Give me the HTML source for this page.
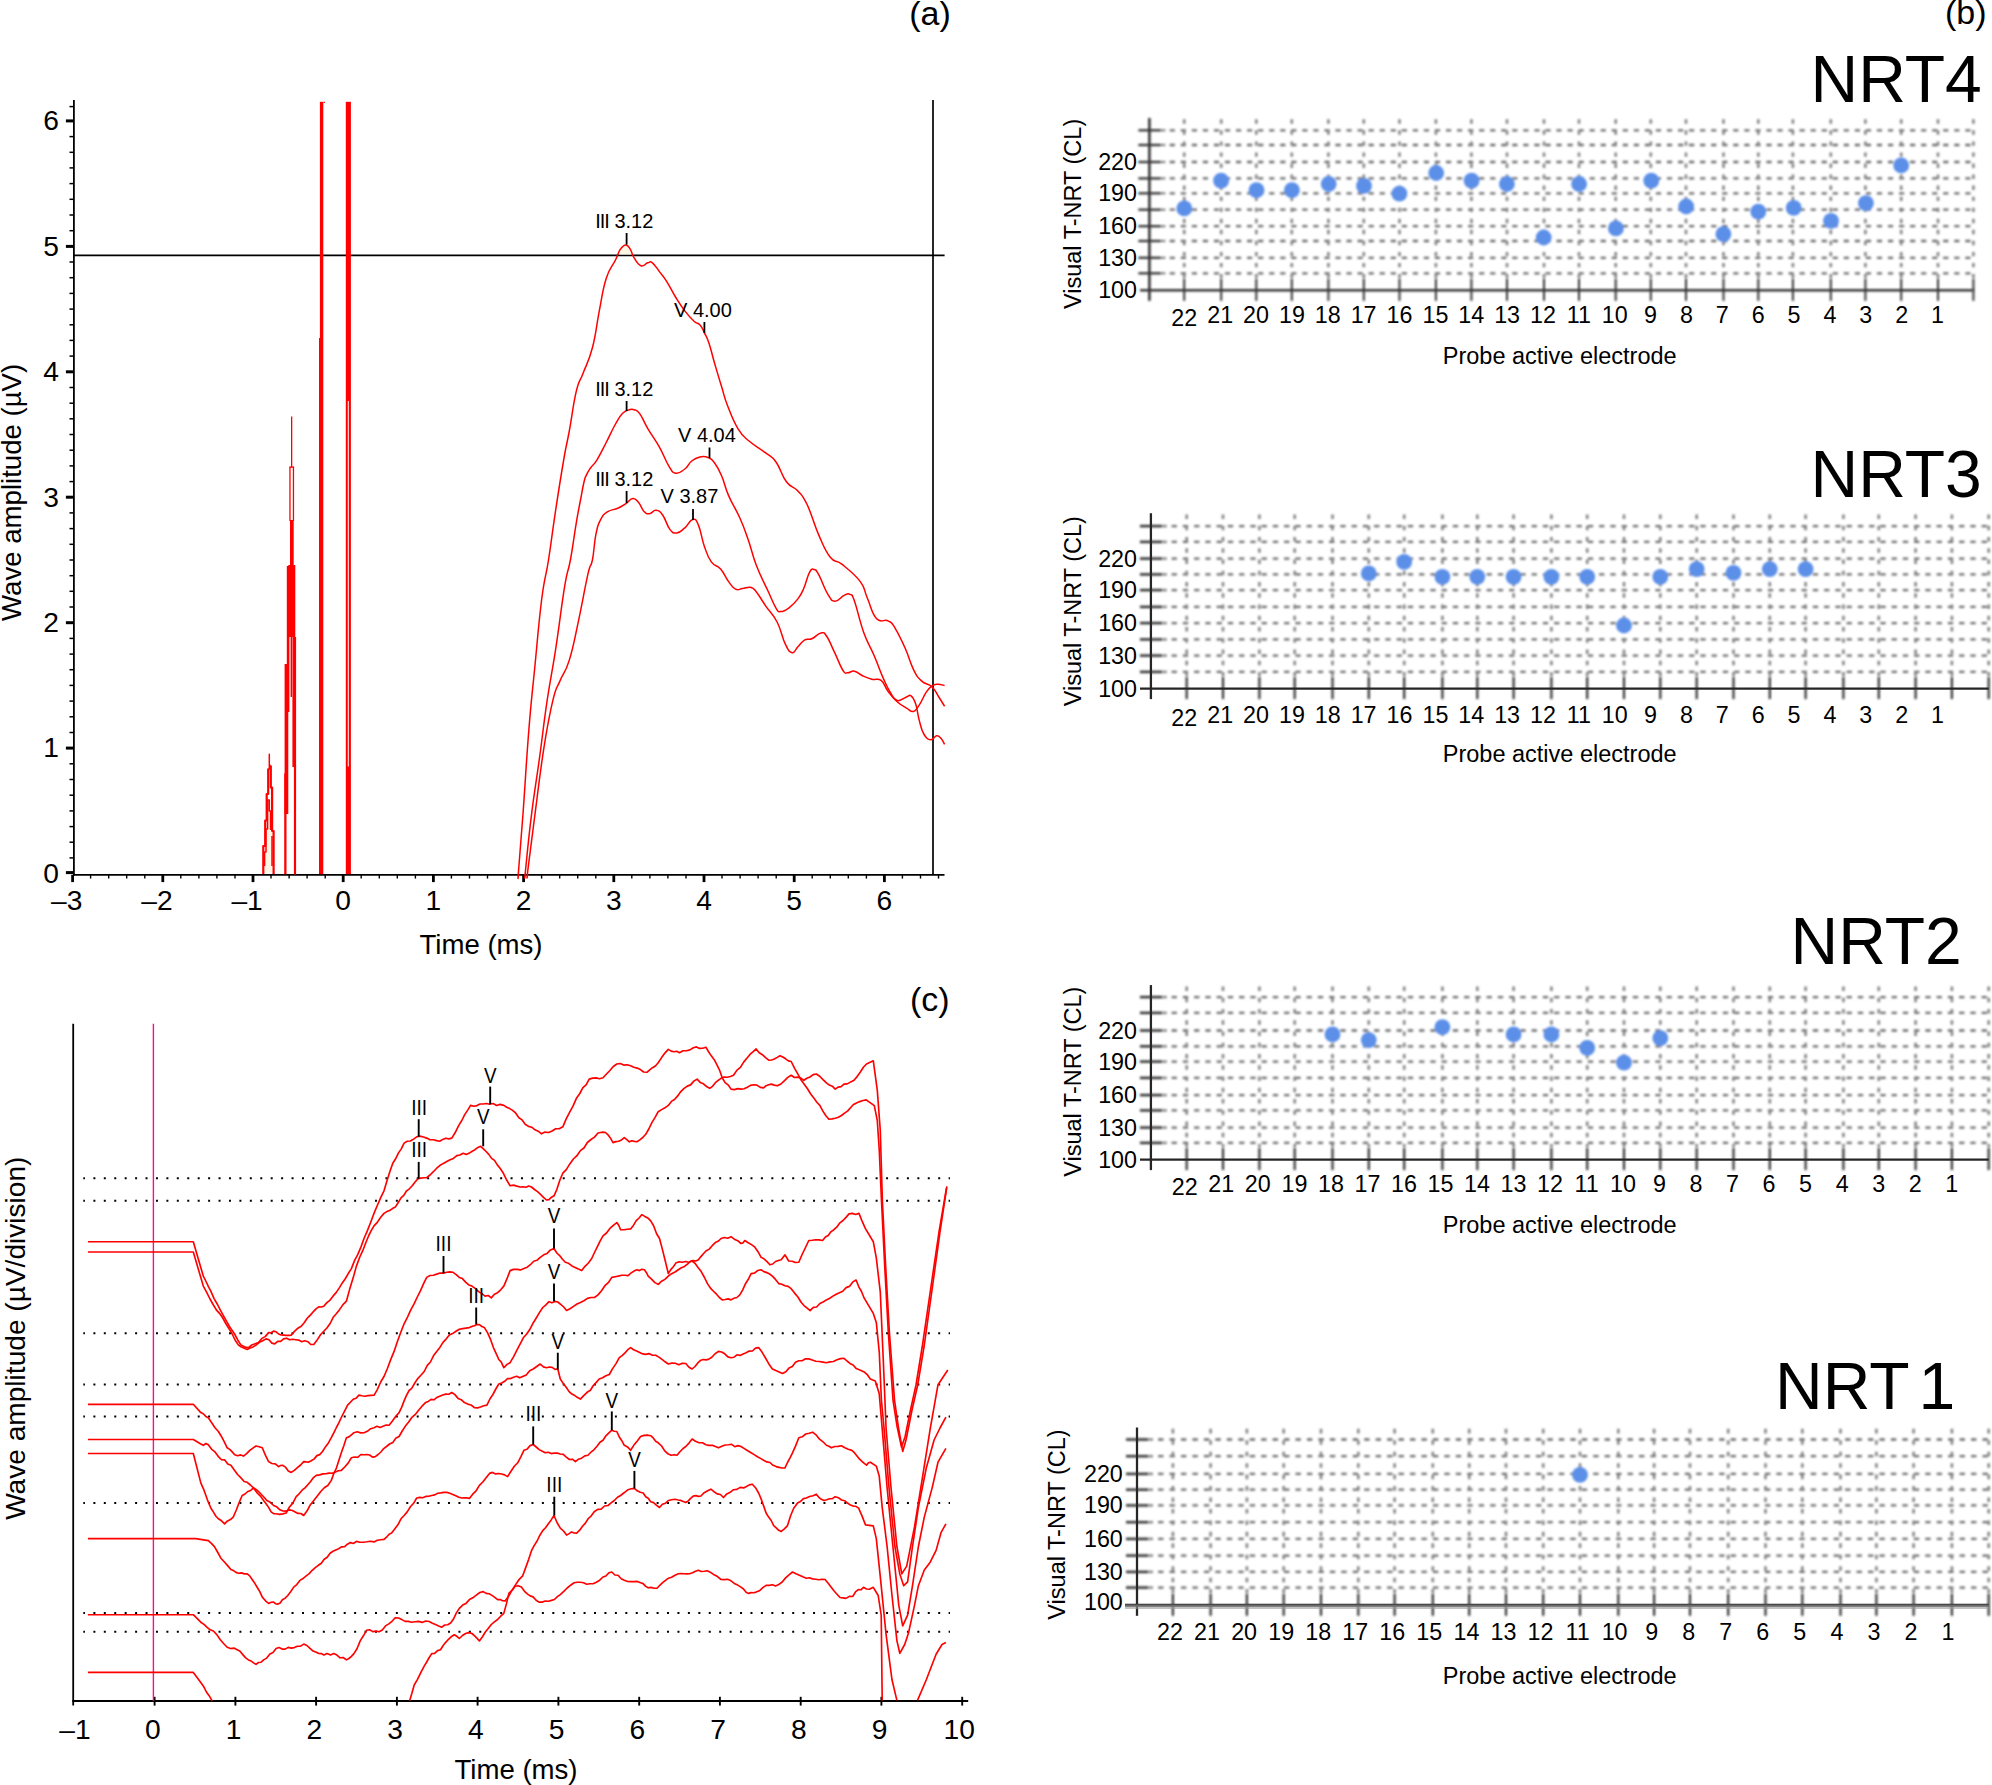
<!DOCTYPE html>
<html lang="en">
<head>
<meta charset="utf-8">
<title>ABR waveforms and NRT thresholds</title>
<style>
html,body{margin:0;padding:0;background:#fff;}
body{width:1992px;height:1785px;overflow:hidden;}
svg{display:block;font-family:"Liberation Sans", sans-serif;}
.red{fill:none;stroke:#ff0000;stroke-linejoin:round;stroke-linecap:butt;}
.ax{stroke:#000;fill:none;}
text{fill:#000;}
.tk{font-size:28.2px;}
.ttl{font-size:27.6px;}
.pl{font-size:34px;}
.lab{font-size:20px;}
.bt{font-size:23.3px;}
.bl{font-size:23.5px;}
.nrt{font-size:66px;}
</style>
</head>
<body>
<svg width="1992" height="1785" viewBox="0 0 1992 1785">
<defs>
<filter id="blurA" x="-5%" y="-5%" width="110%" height="110%"><feGaussianBlur stdDeviation="0.95"/></filter>
<filter id="blurB" x="-5%" y="-5%" width="110%" height="110%"><feGaussianBlur stdDeviation="0.9"/></filter>
<filter id="blurC" x="-5%" y="-5%" width="110%" height="110%"><feGaussianBlur stdDeviation="0.5"/></filter>
<filter id="blur2" x="-5%" y="-5%" width="110%" height="110%"><feGaussianBlur stdDeviation="0.7"/></filter>
</defs>
<rect x="0" y="0" width="1992" height="1785" fill="#fff"/>

<g id="panel-a">
<text class="pl" x="909.3" y="24.7">(a)</text>
<line class="ax" x1="73.9" y1="100" x2="73.9" y2="875.6999999999999" stroke-width="1.8"/>
<line class="ax" x1="73.0" y1="874.8" x2="944.5" y2="874.8" stroke-width="1.8"/>
<line class="ax" x1="65.9" y1="872.6" x2="73.9" y2="872.6" stroke-width="3"/>
<text class="tk" x="58.9" y="882.9" text-anchor="end">0</text>
<line class="ax" x1="69.5" y1="857.9" x2="73.9" y2="857.9" stroke-width="1.5"/>
<line class="ax" x1="69.5" y1="842.2" x2="73.9" y2="842.2" stroke-width="1.5"/>
<line class="ax" x1="69.5" y1="826.6" x2="73.9" y2="826.6" stroke-width="1.5"/>
<line class="ax" x1="69.5" y1="810.9" x2="73.9" y2="810.9" stroke-width="1.5"/>
<line class="ax" x1="69.5" y1="795.2" x2="73.9" y2="795.2" stroke-width="1.5"/>
<line class="ax" x1="69.5" y1="779.5" x2="73.9" y2="779.5" stroke-width="1.5"/>
<line class="ax" x1="69.5" y1="763.8" x2="73.9" y2="763.8" stroke-width="1.5"/>
<line class="ax" x1="65.9" y1="748.1" x2="73.9" y2="748.1" stroke-width="3"/>
<text class="tk" x="58.9" y="757.4" text-anchor="end">1</text>
<line class="ax" x1="69.5" y1="732.5" x2="73.9" y2="732.5" stroke-width="1.5"/>
<line class="ax" x1="69.5" y1="716.8" x2="73.9" y2="716.8" stroke-width="1.5"/>
<line class="ax" x1="69.5" y1="701.1" x2="73.9" y2="701.1" stroke-width="1.5"/>
<line class="ax" x1="69.5" y1="685.4" x2="73.9" y2="685.4" stroke-width="1.5"/>
<line class="ax" x1="69.5" y1="669.7" x2="73.9" y2="669.7" stroke-width="1.5"/>
<line class="ax" x1="69.5" y1="654.1" x2="73.9" y2="654.1" stroke-width="1.5"/>
<line class="ax" x1="69.5" y1="638.4" x2="73.9" y2="638.4" stroke-width="1.5"/>
<line class="ax" x1="65.9" y1="622.7" x2="73.9" y2="622.7" stroke-width="3"/>
<text class="tk" x="58.9" y="632.0" text-anchor="end">2</text>
<line class="ax" x1="69.5" y1="607.0" x2="73.9" y2="607.0" stroke-width="1.5"/>
<line class="ax" x1="69.5" y1="591.3" x2="73.9" y2="591.3" stroke-width="1.5"/>
<line class="ax" x1="69.5" y1="575.7" x2="73.9" y2="575.7" stroke-width="1.5"/>
<line class="ax" x1="69.5" y1="560.0" x2="73.9" y2="560.0" stroke-width="1.5"/>
<line class="ax" x1="69.5" y1="544.3" x2="73.9" y2="544.3" stroke-width="1.5"/>
<line class="ax" x1="69.5" y1="528.6" x2="73.9" y2="528.6" stroke-width="1.5"/>
<line class="ax" x1="69.5" y1="512.9" x2="73.9" y2="512.9" stroke-width="1.5"/>
<line class="ax" x1="65.9" y1="497.2" x2="73.9" y2="497.2" stroke-width="3"/>
<text class="tk" x="58.9" y="506.6" text-anchor="end">3</text>
<line class="ax" x1="69.5" y1="481.6" x2="73.9" y2="481.6" stroke-width="1.5"/>
<line class="ax" x1="69.5" y1="465.9" x2="73.9" y2="465.9" stroke-width="1.5"/>
<line class="ax" x1="69.5" y1="450.2" x2="73.9" y2="450.2" stroke-width="1.5"/>
<line class="ax" x1="69.5" y1="434.5" x2="73.9" y2="434.5" stroke-width="1.5"/>
<line class="ax" x1="69.5" y1="418.8" x2="73.9" y2="418.8" stroke-width="1.5"/>
<line class="ax" x1="69.5" y1="403.2" x2="73.9" y2="403.2" stroke-width="1.5"/>
<line class="ax" x1="69.5" y1="387.5" x2="73.9" y2="387.5" stroke-width="1.5"/>
<line class="ax" x1="65.9" y1="371.8" x2="73.9" y2="371.8" stroke-width="3"/>
<text class="tk" x="58.9" y="381.1" text-anchor="end">4</text>
<line class="ax" x1="69.5" y1="356.1" x2="73.9" y2="356.1" stroke-width="1.5"/>
<line class="ax" x1="69.5" y1="340.4" x2="73.9" y2="340.4" stroke-width="1.5"/>
<line class="ax" x1="69.5" y1="324.8" x2="73.9" y2="324.8" stroke-width="1.5"/>
<line class="ax" x1="69.5" y1="309.1" x2="73.9" y2="309.1" stroke-width="1.5"/>
<line class="ax" x1="69.5" y1="293.4" x2="73.9" y2="293.4" stroke-width="1.5"/>
<line class="ax" x1="69.5" y1="277.7" x2="73.9" y2="277.7" stroke-width="1.5"/>
<line class="ax" x1="69.5" y1="262.0" x2="73.9" y2="262.0" stroke-width="1.5"/>
<line class="ax" x1="65.9" y1="246.4" x2="73.9" y2="246.4" stroke-width="3"/>
<text class="tk" x="58.9" y="255.7" text-anchor="end">5</text>
<line class="ax" x1="69.5" y1="230.7" x2="73.9" y2="230.7" stroke-width="1.5"/>
<line class="ax" x1="69.5" y1="215.0" x2="73.9" y2="215.0" stroke-width="1.5"/>
<line class="ax" x1="69.5" y1="199.3" x2="73.9" y2="199.3" stroke-width="1.5"/>
<line class="ax" x1="69.5" y1="183.6" x2="73.9" y2="183.6" stroke-width="1.5"/>
<line class="ax" x1="69.5" y1="167.9" x2="73.9" y2="167.9" stroke-width="1.5"/>
<line class="ax" x1="69.5" y1="152.3" x2="73.9" y2="152.3" stroke-width="1.5"/>
<line class="ax" x1="69.5" y1="136.6" x2="73.9" y2="136.6" stroke-width="1.5"/>
<line class="ax" x1="65.9" y1="120.9" x2="73.9" y2="120.9" stroke-width="3"/>
<text class="tk" x="58.9" y="130.2" text-anchor="end">6</text>
<line class="ax" x1="69.5" y1="106.6" x2="73.9" y2="106.6" stroke-width="1.5"/>
<line class="ax" x1="72.6" y1="874.8" x2="72.6" y2="882.1" stroke-width="2.8"/>
<text class="tk" x="82.4" y="910.0" text-anchor="end">–3</text>
<line class="ax" x1="90.6" y1="874.8" x2="90.6" y2="878.6" stroke-width="1.4"/>
<line class="ax" x1="108.7" y1="874.8" x2="108.7" y2="878.6" stroke-width="1.4"/>
<line class="ax" x1="126.7" y1="874.8" x2="126.7" y2="878.6" stroke-width="1.4"/>
<line class="ax" x1="144.8" y1="874.8" x2="144.8" y2="878.6" stroke-width="1.4"/>
<line class="ax" x1="162.8" y1="874.8" x2="162.8" y2="882.1" stroke-width="2.8"/>
<text class="tk" x="172.6" y="910.0" text-anchor="end">–2</text>
<line class="ax" x1="180.8" y1="874.8" x2="180.8" y2="878.6" stroke-width="1.4"/>
<line class="ax" x1="198.9" y1="874.8" x2="198.9" y2="878.6" stroke-width="1.4"/>
<line class="ax" x1="216.9" y1="874.8" x2="216.9" y2="878.6" stroke-width="1.4"/>
<line class="ax" x1="235.0" y1="874.8" x2="235.0" y2="878.6" stroke-width="1.4"/>
<line class="ax" x1="253.0" y1="874.8" x2="253.0" y2="882.1" stroke-width="2.8"/>
<text class="tk" x="262.8" y="910.0" text-anchor="end">–1</text>
<line class="ax" x1="271.0" y1="874.8" x2="271.0" y2="878.6" stroke-width="1.4"/>
<line class="ax" x1="289.1" y1="874.8" x2="289.1" y2="878.6" stroke-width="1.4"/>
<line class="ax" x1="307.1" y1="874.8" x2="307.1" y2="878.6" stroke-width="1.4"/>
<line class="ax" x1="325.2" y1="874.8" x2="325.2" y2="878.6" stroke-width="1.4"/>
<line class="ax" x1="343.2" y1="874.8" x2="343.2" y2="882.1" stroke-width="2.8"/>
<text class="tk" x="343.2" y="910.0" text-anchor="middle">0</text>
<line class="ax" x1="361.2" y1="874.8" x2="361.2" y2="878.6" stroke-width="1.4"/>
<line class="ax" x1="379.3" y1="874.8" x2="379.3" y2="878.6" stroke-width="1.4"/>
<line class="ax" x1="397.3" y1="874.8" x2="397.3" y2="878.6" stroke-width="1.4"/>
<line class="ax" x1="415.4" y1="874.8" x2="415.4" y2="878.6" stroke-width="1.4"/>
<line class="ax" x1="433.4" y1="874.8" x2="433.4" y2="882.1" stroke-width="2.8"/>
<text class="tk" x="433.4" y="910.0" text-anchor="middle">1</text>
<line class="ax" x1="451.4" y1="874.8" x2="451.4" y2="878.6" stroke-width="1.4"/>
<line class="ax" x1="469.5" y1="874.8" x2="469.5" y2="878.6" stroke-width="1.4"/>
<line class="ax" x1="487.5" y1="874.8" x2="487.5" y2="878.6" stroke-width="1.4"/>
<line class="ax" x1="505.6" y1="874.8" x2="505.6" y2="878.6" stroke-width="1.4"/>
<line class="ax" x1="523.6" y1="874.8" x2="523.6" y2="882.1" stroke-width="2.8"/>
<text class="tk" x="523.6" y="910.0" text-anchor="middle">2</text>
<line class="ax" x1="541.6" y1="874.8" x2="541.6" y2="878.6" stroke-width="1.4"/>
<line class="ax" x1="559.7" y1="874.8" x2="559.7" y2="878.6" stroke-width="1.4"/>
<line class="ax" x1="577.7" y1="874.8" x2="577.7" y2="878.6" stroke-width="1.4"/>
<line class="ax" x1="595.8" y1="874.8" x2="595.8" y2="878.6" stroke-width="1.4"/>
<line class="ax" x1="613.8" y1="874.8" x2="613.8" y2="882.1" stroke-width="2.8"/>
<text class="tk" x="613.8" y="910.0" text-anchor="middle">3</text>
<line class="ax" x1="631.8" y1="874.8" x2="631.8" y2="878.6" stroke-width="1.4"/>
<line class="ax" x1="649.9" y1="874.8" x2="649.9" y2="878.6" stroke-width="1.4"/>
<line class="ax" x1="667.9" y1="874.8" x2="667.9" y2="878.6" stroke-width="1.4"/>
<line class="ax" x1="686.0" y1="874.8" x2="686.0" y2="878.6" stroke-width="1.4"/>
<line class="ax" x1="704.0" y1="874.8" x2="704.0" y2="882.1" stroke-width="2.8"/>
<text class="tk" x="704.0" y="910.0" text-anchor="middle">4</text>
<line class="ax" x1="722.0" y1="874.8" x2="722.0" y2="878.6" stroke-width="1.4"/>
<line class="ax" x1="740.1" y1="874.8" x2="740.1" y2="878.6" stroke-width="1.4"/>
<line class="ax" x1="758.1" y1="874.8" x2="758.1" y2="878.6" stroke-width="1.4"/>
<line class="ax" x1="776.2" y1="874.8" x2="776.2" y2="878.6" stroke-width="1.4"/>
<line class="ax" x1="794.2" y1="874.8" x2="794.2" y2="882.1" stroke-width="2.8"/>
<text class="tk" x="794.2" y="910.0" text-anchor="middle">5</text>
<line class="ax" x1="812.2" y1="874.8" x2="812.2" y2="878.6" stroke-width="1.4"/>
<line class="ax" x1="830.3" y1="874.8" x2="830.3" y2="878.6" stroke-width="1.4"/>
<line class="ax" x1="848.3" y1="874.8" x2="848.3" y2="878.6" stroke-width="1.4"/>
<line class="ax" x1="866.4" y1="874.8" x2="866.4" y2="878.6" stroke-width="1.4"/>
<line class="ax" x1="884.4" y1="874.8" x2="884.4" y2="882.1" stroke-width="2.8"/>
<text class="tk" x="884.4" y="910.0" text-anchor="middle">6</text>
<line class="ax" x1="902.4" y1="874.8" x2="902.4" y2="878.6" stroke-width="1.4"/>
<line class="ax" x1="920.5" y1="874.8" x2="920.5" y2="878.6" stroke-width="1.4"/>
<line class="ax" x1="938.5" y1="874.8" x2="938.5" y2="878.6" stroke-width="1.4"/>
<text class="ttl" x="481" y="954" text-anchor="middle">Time (ms)</text>
<text class="ttl" transform="translate(21.0,492.4) rotate(-90)" text-anchor="middle">Wave amplitude (µV)</text>
<line class="ax" x1="74" y1="255.4" x2="944.6" y2="255.4" stroke-width="1.7"/>
<line class="ax" x1="933" y1="100" x2="933" y2="874.8" stroke-width="1.7"/>
<path d="M619.5,254.6 L621.5,248.5 L626,245.8 L630,249.5 L632.5,254.6 Z" fill="#fbf7e4"/>
<g fill="#ff0000" stroke="none">
<rect x="319.0" y="338" width="2.2" height="536"/>
<rect x="319.9" y="101.8" width="3.4" height="772.4"/>
<rect x="345.8" y="101.8" width="5.1" height="772.4"/>
<rect x="323.6" y="101.8" width="1.3" height="1.2"/>
</g>
<rect x="347.7" y="401" width="1.3" height="365.5" fill="#fff" fill-opacity="0.75"/>
<g fill="#ff0000" stroke="none">
<rect x="284.2" y="773.3" width="2.3" height="101"/>
<rect x="284.6" y="664" width="3.7" height="150"/>
<rect x="286.8" y="566" width="2.6" height="146"/>
<rect x="288.3" y="565" width="7.0" height="72"/>
<rect x="290.0" y="520" width="3.7" height="46"/>
<rect x="289.3" y="467" width="1.3" height="54"/>
<rect x="292.8" y="467" width="1.3" height="54"/>
<rect x="289.3" y="466.4" width="4.8" height="1.3"/>
<rect x="291.0" y="416.5" width="1.3" height="51"/>
<rect x="292.4" y="637" width="3.7" height="130"/>
<rect x="293.9" y="766" width="2.2" height="108.5"/>
<rect x="290.6" y="637" width="1.4" height="60"/>
</g>
<polygon points="265,872.5 265,832 267,832 267,812 270.5,812 270.5,832 272.5,832 272.5,872.5" fill="#fbf7e4"/>
<g class="red" stroke-width="2.2" stroke-linejoin="miter">
<polyline points="263.3,874 263.3,846 265.2,846 265.2,820.5 266.7,820.5 266.7,794 268.2,794 268.2,768.6"/>
<polyline points="270.8,765.5 270.8,787.6 272.1,787.6 272.1,831 273.6,831 273.6,874"/>
</g>
<g class="red" stroke-width="1.5" stroke-linejoin="miter">
<polyline points="268.2,769 269.3,769 269.3,754.2 269.3,765.5 270.8,765.5"/>
<polyline points="264.6,866 264.6,852 266.0,852 266.0,829 267.6,829 267.6,800 269.3,800 269.3,811 270.6,811 270.6,830"/>
<polyline points="272.0,836 272.0,866"/>
</g>
<g class="red" stroke-width="1.5">
<path d="M518.5,874.0C518.5,873.4 517.4,885.8 518.5,871.4C519.6,857.0 520.7,845.6 523.1,812.5C525.5,779.4 526.2,762.8 528.9,729.4C531.6,696.0 531.6,699.5 534.6,669.3C537.6,639.1 538.4,625.5 541.6,600.0C544.8,574.5 545.3,580.6 548.5,560.0C551.7,539.4 551.9,534.9 555.4,511.8C558.9,488.7 560.3,479.9 563.5,461.0C566.7,442.1 566.3,447.2 569.3,431.0C572.3,414.8 573.0,405.2 576.2,391.7C579.4,378.2 579.3,383.4 583.1,373.2C586.9,363.0 588.6,362.3 592.4,347.8C596.2,333.3 596.1,327.1 599.3,310.9C602.5,294.7 602.4,290.4 606.2,278.5C610.0,266.6 612.3,266.7 615.5,260.0C618.7,253.3 617.7,253.2 620.1,249.7C622.5,246.2 623.5,245.0 625.9,245.0C628.3,245.0 628.6,246.7 630.5,249.7C632.4,252.7 631.6,253.9 634.0,257.7C636.4,261.5 637.7,264.6 640.9,265.8C644.1,267.0 645.1,263.5 647.8,262.8C650.5,262.1 649.7,260.7 652.4,262.8C655.1,264.9 656.2,267.4 659.4,271.6C662.6,275.8 662.5,274.9 666.3,280.8C670.1,286.7 671.2,290.0 675.5,297.0C679.8,304.0 680.5,305.3 684.8,310.9C689.1,316.5 690.5,318.0 694.0,321.2C697.5,324.4 697.4,322.0 699.8,324.7C702.2,327.4 702.3,328.5 704.4,332.8C706.5,337.1 706.6,335.9 709.0,343.2C711.4,350.5 711.8,353.8 714.8,364.0C717.8,374.2 718.7,377.3 721.7,387.0C724.7,396.7 723.7,395.8 727.5,405.5C731.3,415.2 732.8,420.2 737.9,428.6C743.0,437.0 742.9,435.6 749.4,441.3C755.9,447.0 759.4,448.1 765.6,452.9C771.8,457.7 771.1,455.3 776.0,462.0C780.9,468.7 781.3,475.0 786.4,481.8C791.5,488.6 793.0,485.6 797.9,491.0C802.8,496.4 802.3,494.6 807.2,504.8C812.1,515.0 813.3,522.6 818.7,534.9C824.1,547.1 824.9,550.5 830.3,557.3C835.7,564.1 834.8,558.5 841.8,564.2C848.8,569.9 854.4,573.8 860.3,581.6C866.2,589.4 863.4,589.1 867.2,597.7C871.0,606.3 871.5,613.1 876.4,618.5C881.3,623.9 883.7,618.6 888.0,620.8C892.3,623.0 890.9,621.3 894.9,627.8C898.9,634.3 901.0,638.8 905.3,648.5C909.6,658.2 909.6,661.7 913.4,669.3C917.2,676.9 917.2,676.8 921.5,680.9C925.8,685.0 927.9,682.9 931.9,686.7C935.9,690.5 935.8,692.4 938.8,697.0C941.8,701.6 943.2,704.1 944.6,706.3"/>
<path d="M525.4,874.0C525.4,873.4 524.0,884.7 525.4,871.4C526.8,858.1 528.0,843.2 531.2,817.1C534.4,791.0 535.5,786.9 539.3,759.4C543.1,731.9 543.5,724.7 547.3,699.4C551.1,674.1 551.3,677.3 555.4,650.9C559.5,624.5 561.2,607.4 564.7,586.2C568.2,565.0 567.7,574.7 570.4,560.0C573.1,545.3 573.9,537.2 576.2,523.3C578.5,509.4 578.6,510.1 580.4,500.5C582.2,490.9 582.6,488.0 584.0,482.0C585.4,476.0 585.1,477.9 586.6,474.6C588.1,471.3 588.1,471.5 590.5,468.0C592.9,464.5 593.3,465.8 597.0,459.8C600.7,453.9 601.9,450.9 606.2,442.5C610.5,434.1 611.7,430.7 615.5,424.0C619.3,417.3 619.2,416.9 622.4,413.6C625.6,410.3 626.6,410.6 629.3,409.7C632.0,408.8 631.5,408.8 633.9,409.7C636.3,410.6 636.5,409.2 639.7,413.6C642.9,418.0 643.2,420.8 647.8,428.6C652.4,436.4 654.5,438.5 659.4,447.1C664.3,455.7 664.8,459.5 668.6,465.6C672.4,471.7 671.7,472.4 675.5,473.2C679.3,474.0 681.0,471.8 684.8,469.0C688.6,466.2 688.2,463.8 691.7,461.0C695.2,458.2 696.0,457.8 699.8,457.0C703.6,456.2 704.4,456.0 707.9,457.5C711.4,459.0 711.6,459.0 714.8,463.3C718.0,467.6 718.5,468.5 721.7,476.0C724.9,483.5 724.3,485.6 728.6,495.6C732.9,505.6 735.6,508.3 740.2,518.7C744.8,529.1 744.5,529.1 748.3,540.0C752.1,550.9 751.8,553.5 756.4,565.4C761.0,577.3 763.3,580.8 767.9,590.8C772.5,600.8 773.0,603.2 776.0,608.1C779.0,613.0 777.6,611.6 780.6,611.6C783.6,611.6 784.7,611.1 788.7,608.1C792.7,605.1 794.4,603.5 797.9,598.9C801.4,594.3 801.0,594.7 803.7,588.5C806.4,582.3 807.1,576.7 809.5,572.3C811.9,567.9 812.0,569.1 814.1,569.6C816.2,570.1 815.5,568.8 818.7,574.6C821.9,580.4 824.1,588.1 827.9,594.3C831.7,600.5 831.1,600.9 834.9,601.2C838.7,601.5 840.6,597.0 844.1,595.4C847.6,593.8 847.5,592.9 849.9,594.3C852.3,595.7 851.3,592.3 854.5,601.2C857.7,610.1 859.1,619.7 863.7,632.4C868.3,645.1 869.5,644.7 874.1,655.5C878.7,666.3 879.6,670.0 883.4,678.6C887.2,687.2 887.1,687.3 890.3,692.4C893.5,697.5 893.4,699.4 897.2,700.5C901.0,701.6 903.3,698.1 906.5,697.0C909.7,695.9 909.0,694.3 911.1,695.9C913.2,697.5 913.8,698.4 915.7,704.0C917.6,709.6 917.3,713.1 919.2,720.1C921.1,727.1 921.1,729.4 923.8,734.0C926.5,738.6 927.7,739.4 930.7,739.8C933.7,740.2 934.1,736.1 936.5,735.8C938.9,735.5 939.2,736.6 941.1,738.6C943.0,740.6 943.8,743.0 944.6,744.4"/>
<path d="M527.7,874.0C527.7,873.4 526.1,884.7 527.7,871.4C529.3,858.1 530.8,845.9 534.6,817.1C538.4,788.3 539.6,775.4 543.9,747.9C548.2,720.4 549.3,715.0 553.1,699.4C556.9,683.8 556.2,690.1 560.0,680.9C563.8,671.7 565.0,674.1 569.3,660.1C573.6,646.1 574.2,640.8 578.5,620.8C582.8,600.8 584.6,588.8 587.8,574.6C591.0,560.4 590.5,569.3 592.4,560.0C594.3,550.7 593.9,544.3 595.8,534.9C597.7,525.5 597.8,525.3 600.5,519.9C603.2,514.5 603.4,514.5 607.4,511.8C611.4,509.1 613.5,510.2 617.8,508.3C622.1,506.4 622.4,506.0 625.9,503.7C629.4,501.4 629.8,498.7 632.8,498.4C635.8,498.1 635.9,499.4 638.6,502.5C641.3,505.6 641.6,509.2 644.3,511.8C647.0,514.4 647.4,514.0 650.1,513.6C652.8,513.2 652.9,509.8 655.9,510.2C658.9,510.6 659.6,510.8 662.8,515.2C666.0,519.6 666.5,524.9 669.7,529.1C672.9,533.3 673.2,533.3 676.7,533.0C680.2,532.7 681.0,531.1 684.8,527.9C688.6,524.7 689.6,519.9 692.8,519.4C696.0,518.9 695.9,519.3 698.6,525.6C701.3,531.9 701.4,537.9 704.4,546.4C707.4,554.9 707.5,556.6 711.3,561.9C715.1,567.1 716.6,564.3 720.6,568.9C724.6,573.5 725.1,576.9 728.6,581.6C732.1,586.3 732.4,587.6 735.6,589.2C738.8,590.8 739.0,588.9 742.5,588.5C746.0,588.1 747.4,586.5 750.6,587.3C753.8,588.1 752.9,587.7 756.4,592.0C759.9,596.3 760.8,598.8 765.6,605.8C770.4,612.8 772.5,613.1 777.1,622.0C781.7,630.9 781.7,636.7 785.2,643.9C788.7,651.1 789.1,652.0 792.1,652.7C795.1,653.4 794.9,649.7 797.9,646.7C800.9,643.7 801.6,641.6 804.8,639.8C808.0,638.0 808.0,640.4 811.8,638.8C815.6,637.2 817.5,633.5 821.0,633.0C824.5,632.5 823.6,631.8 826.8,636.5C830.0,641.2 831.1,645.3 834.9,653.2C838.7,661.1 840.0,665.9 843.0,670.5C846.0,675.1 844.9,672.6 847.6,672.8C850.3,673.0 851.0,670.5 854.5,671.2C858.0,671.9 858.6,673.9 862.6,675.8C866.6,677.7 867.5,678.2 871.8,679.3C876.1,680.4 877.3,677.6 881.1,680.4C884.9,683.2 884.2,686.3 888.0,691.3C891.8,696.3 892.9,697.8 897.2,701.7C901.5,705.6 902.7,705.8 906.5,708.1C910.3,710.4 910.4,712.1 913.4,711.4C916.4,710.7 916.2,709.5 919.2,705.1C922.2,700.7 923.1,696.9 926.1,692.4C929.1,687.9 929.2,687.9 931.9,686.0C934.6,684.1 934.6,684.4 937.6,684.3C940.6,684.2 943.0,685.2 944.6,685.5"/>
</g>
<text class="lab" x="595.3" y="227.7"><tspan letter-spacing="-1.05">III</tspan> 3.12</text>
<line class="ax" x1="626.6" y1="233" x2="626.6" y2="244.6" stroke-width="1.8"/>
<text class="lab" x="674.0" y="317.0">V 4.00</text>
<line class="ax" x1="704.4" y1="322" x2="704.4" y2="333" stroke-width="1.8"/>
<text class="lab" x="595.3" y="396.0"><tspan letter-spacing="-1.05">III</tspan> 3.12</text>
<line class="ax" x1="626.6" y1="401" x2="626.6" y2="411" stroke-width="1.8"/>
<text class="lab" x="678.0" y="442.0">V 4.04</text>
<line class="ax" x1="709.5" y1="447.5" x2="709.5" y2="458" stroke-width="1.8"/>
<text class="lab" x="595.3" y="486.0"><tspan letter-spacing="-1.05">III</tspan> 3.12</text>
<line class="ax" x1="626.6" y1="491" x2="626.6" y2="503" stroke-width="1.8"/>
<text class="lab" x="660.5" y="503.0">V 3.87</text>
<line class="ax" x1="693.0" y1="509" x2="693.0" y2="520" stroke-width="1.8"/>
</g>
<g id="panel-c">
<text class="pl" x="909.9" y="1010.6">(c)</text>
<line class="ax" x1="73.2" y1="1023.8" x2="73.2" y2="1705.6" stroke-width="1.8"/>
<line class="ax" x1="72.3" y1="1701.0" x2="968.2" y2="1701.0" stroke-width="1.8"/>
<text class="tk" x="75.0" y="1739.0" text-anchor="middle">–1</text>
<line class="ax" x1="154.6" y1="1696.8" x2="154.6" y2="1705.6" stroke-width="1.9"/>
<text class="tk" x="152.8" y="1739.0" text-anchor="middle">0</text>
<line class="ax" x1="235.4" y1="1696.8" x2="235.4" y2="1705.6" stroke-width="1.9"/>
<text class="tk" x="233.6" y="1739.0" text-anchor="middle">1</text>
<line class="ax" x1="316.1" y1="1696.8" x2="316.1" y2="1705.6" stroke-width="1.9"/>
<text class="tk" x="314.3" y="1739.0" text-anchor="middle">2</text>
<line class="ax" x1="396.9" y1="1696.8" x2="396.9" y2="1705.6" stroke-width="1.9"/>
<text class="tk" x="395.1" y="1739.0" text-anchor="middle">3</text>
<line class="ax" x1="477.6" y1="1696.8" x2="477.6" y2="1705.6" stroke-width="1.9"/>
<text class="tk" x="475.8" y="1739.0" text-anchor="middle">4</text>
<line class="ax" x1="558.4" y1="1696.8" x2="558.4" y2="1705.6" stroke-width="1.9"/>
<text class="tk" x="556.6" y="1739.0" text-anchor="middle">5</text>
<line class="ax" x1="639.2" y1="1696.8" x2="639.2" y2="1705.6" stroke-width="1.9"/>
<text class="tk" x="637.4" y="1739.0" text-anchor="middle">6</text>
<line class="ax" x1="719.9" y1="1696.8" x2="719.9" y2="1705.6" stroke-width="1.9"/>
<text class="tk" x="718.1" y="1739.0" text-anchor="middle">7</text>
<line class="ax" x1="800.7" y1="1696.8" x2="800.7" y2="1705.6" stroke-width="1.9"/>
<text class="tk" x="798.9" y="1739.0" text-anchor="middle">8</text>
<line class="ax" x1="881.4" y1="1696.8" x2="881.4" y2="1705.6" stroke-width="1.9"/>
<text class="tk" x="879.6" y="1739.0" text-anchor="middle">9</text>
<line class="ax" x1="962.2" y1="1696.8" x2="962.2" y2="1705.6" stroke-width="1.9"/>
<text class="tk" x="959.3" y="1739.0" text-anchor="middle">10</text>
<text class="ttl" x="516" y="1779.2" text-anchor="middle">Time (ms)</text>
<text class="ttl" style="font-size:28.1px" transform="translate(24.6,1338.2) rotate(-90)" text-anchor="middle">Wave amplitude (µV/division)</text>
<line x1="83.3" y1="1178.2" x2="950" y2="1178.2" stroke="#000" stroke-width="2" stroke-dasharray="2 8.43" stroke-dashoffset="0.35"/>
<line x1="83.3" y1="1200.8" x2="950" y2="1200.8" stroke="#000" stroke-width="2" stroke-dasharray="2 8.43" stroke-dashoffset="0.35"/>
<line x1="83.3" y1="1333.3" x2="950" y2="1333.3" stroke="#000" stroke-width="2" stroke-dasharray="2 8.43" stroke-dashoffset="0.35"/>
<line x1="83.3" y1="1384.5" x2="950" y2="1384.5" stroke="#000" stroke-width="2" stroke-dasharray="2 8.43" stroke-dashoffset="0.35"/>
<line x1="83.3" y1="1416.4" x2="950" y2="1416.4" stroke="#000" stroke-width="2" stroke-dasharray="2 8.43" stroke-dashoffset="0.35"/>
<line x1="83.3" y1="1503.0" x2="950" y2="1503.0" stroke="#000" stroke-width="2" stroke-dasharray="2 8.43" stroke-dashoffset="0.35"/>
<line x1="83.3" y1="1612.9" x2="950" y2="1612.9" stroke="#000" stroke-width="2" stroke-dasharray="2 8.43" stroke-dashoffset="0.35"/>
<line x1="83.3" y1="1631.8" x2="950" y2="1631.8" stroke="#000" stroke-width="2" stroke-dasharray="2 8.43" stroke-dashoffset="0.35"/>
<line x1="153.4" y1="1023.8" x2="153.4" y2="1700.8" stroke="#ff0a8c" stroke-width="1.4"/>
<g class="red" stroke-width="1.65" stroke-linejoin="miter">
<polyline points="87.9,1241.7 193.3,1241.7 203.3,1276.1 205.8,1281.0 208.3,1286.3 210.8,1291.2 214.2,1298.8 217.5,1304.5 220.9,1311.2 224.2,1317.1 227.6,1323.1 230.9,1328.8 234.3,1333.5 237.6,1339.7 241.0,1345.1 243.5,1346.2 246.0,1347.4 248.5,1347.6 251.8,1345.0 255.2,1343.8 258.5,1342.6 261.9,1338.4 265.2,1336.6 268.6,1332.6 271.1,1332.8 273.6,1331.1 276.1,1331.8 278.6,1334.0 281.1,1335.0 283.6,1335.1 286.1,1335.4 288.7,1335.4 291.2,1335.1 294.5,1331.4 297.9,1328.2 301.2,1326.3 304.2,1322.8 307.2,1318.3 310.3,1315.1 313.3,1311.7 316.3,1308.7 318.8,1306.8 321.3,1307.0 323.8,1306.2 326.9,1302.6 330.1,1300.1 333.2,1295.9 336.3,1292.4 339.3,1287.9 342.3,1282.9 345.4,1278.5 348.4,1273.3 351.4,1268.6 354.5,1260.6 357.7,1254.6 360.9,1247.1 364.0,1238.5 367.3,1230.9 370.7,1222.2 374.0,1213.4 377.3,1205.5 380.7,1197.7 384.0,1190.8 386.9,1181.1 389.9,1171.5 392.8,1163.2 395.6,1158.8 398.5,1152.9 401.3,1148.9 404.1,1143.1 407.2,1141.3 410.4,1141.0 413.6,1139.1 416.7,1136.8 420.0,1136.1 423.4,1137.0 426.7,1138.1 430.0,1139.8 433.4,1139.7 436.7,1140.6 439.7,1141.2 442.7,1139.4 445.8,1138.2 448.8,1138.9 451.8,1138.1 455.1,1132.8 458.5,1125.9 461.8,1120.5 464.7,1114.6 467.7,1110.1 470.6,1105.4 473.8,1106.2 476.9,1105.6 480.1,1104.0 483.2,1104.0 486.4,1103.5 489.5,1104.2 493.1,1103.5 496.6,1105.5 500.2,1104.4 503.8,1105.4 506.7,1107.2 509.7,1108.6 512.6,1110.4 515.8,1113.2 518.9,1117.8 522.1,1119.9 525.2,1124.2 528.5,1126.4 531.7,1127.2 535.0,1129.8 538.2,1131.2 541.5,1133.8 545.0,1132.1 548.6,1132.5 552.1,1131.0 555.7,1128.7 559.2,1128.8 562.8,1126.8 566.2,1118.9 569.7,1112.1 573.1,1105.9 576.6,1097.9 579.8,1093.5 582.9,1087.6 586.1,1084.9 589.2,1079.1 592.7,1078.1 596.1,1077.9 599.5,1078.7 603.0,1077.8 606.5,1074.0 609.9,1070.5 613.3,1066.5 616.8,1064.0 620.2,1063.5 623.7,1065.1 627.1,1064.8 630.6,1065.8 633.9,1067.3 637.1,1068.1 640.4,1069.6 643.6,1072.0 646.9,1072.3 649.7,1069.9 652.5,1067.7 655.4,1066.0 658.2,1062.8 661.6,1057.6 664.9,1053.1 668.3,1049.4 671.1,1051.1 673.9,1051.7 676.7,1051.3 679.5,1052.7 683.0,1050.8 686.5,1050.7 689.9,1049.9 693.4,1047.7 696.5,1046.9 699.6,1048.4 702.8,1048.2 705.9,1047.2 708.7,1052.0 711.5,1056.1 714.4,1059.9 717.2,1065.3 719.7,1070.5 722.2,1077.8 725.1,1082.6 728.1,1084.8 731.0,1089.1 734.3,1089.6 737.7,1088.6 741.0,1089.1 744.1,1088.7 747.3,1087.2 750.5,1085.4 753.6,1084.8 756.9,1085.1 760.3,1087.4 763.6,1087.9 766.1,1085.7 768.7,1084.8 771.2,1084.1 774.3,1085.1 777.4,1085.8 780.9,1084.0 784.3,1080.8 787.8,1077.4 791.2,1075.3 794.4,1077.5 797.5,1077.1 800.6,1078.0 803.8,1080.3 806.9,1078.2 810.0,1077.0 813.2,1074.6 816.3,1074.0 819.7,1076.2 823.0,1079.6 826.4,1082.8 829.3,1085.1 832.3,1086.2 835.2,1089.1 838.1,1087.1 841.1,1086.6 844.0,1084.1 847.3,1083.9 850.7,1081.9 854.0,1080.3 857.1,1076.6 860.2,1072.3 863.4,1067.3 866.5,1064.0 873.3,1060.8 877.3,1090.4 880.3,1130.8 882.4,1201.4 885.4,1261.9 889.4,1332.5 894.5,1400.0 898.5,1428.0 902.7,1451.4 906.0,1440.0 912.0,1410.0 917.7,1385.0 924.3,1345.0 932.0,1290.0 940.0,1232.0 946.9,1186.3"/>
<polyline points="87.9,1252.0 193.3,1252.0 203.3,1286.1 206.7,1292.3 210.0,1299.0 213.4,1305.0 216.5,1310.1 219.7,1313.6 222.8,1318.0 225.9,1323.8 229.1,1328.8 232.2,1334.0 235.3,1340.5 238.5,1345.1 241.4,1347.0 244.3,1348.2 247.2,1349.4 250.1,1348.1 253.1,1346.9 256.0,1345.1 259.4,1342.3 262.7,1340.8 266.1,1338.9 269.0,1339.8 271.9,1343.1 274.8,1343.9 277.7,1341.3 280.7,1341.3 283.6,1338.9 286.6,1338.2 289.6,1339.8 292.7,1339.3 295.7,1339.7 298.7,1340.1 301.7,1341.7 304.7,1340.8 307.8,1341.7 310.8,1344.5 313.8,1344.4 317.1,1340.1 320.5,1334.8 323.8,1331.3 326.9,1328.0 330.1,1323.5 333.2,1317.3 336.3,1313.8 339.7,1309.4 343.0,1304.6 346.4,1301.2 349.7,1289.1 353.1,1278.1 356.4,1266.1 359.8,1257.0 363.1,1249.8 366.5,1241.0 369.0,1235.0 371.5,1230.2 374.0,1225.9 377.3,1222.4 380.7,1217.3 384.0,1213.4 386.8,1211.6 389.6,1210.5 392.5,1208.6 395.3,1207.1 398.1,1202.8 401.0,1197.9 403.8,1195.4 406.6,1190.8 409.4,1188.8 412.2,1185.8 415.1,1182.1 417.9,1178.7 420.8,1178.1 423.8,1177.7 426.7,1177.7 430.0,1175.0 433.4,1171.7 436.7,1168.2 440.1,1165.3 443.4,1163.4 446.8,1161.6 450.1,1159.8 453.4,1158.4 456.8,1155.6 459.9,1155.0 463.1,1153.3 466.2,1154.4 469.4,1153.1 472.2,1151.2 475.0,1149.7 477.9,1147.4 480.7,1146.3 483.4,1148.8 486.1,1151.5 488.8,1154.4 491.6,1158.4 494.5,1160.4 497.3,1164.9 500.1,1168.2 503.4,1173.3 506.8,1180.3 510.1,1185.7 513.5,1185.1 516.8,1186.1 520.2,1187.0 523.0,1186.7 525.9,1187.3 528.7,1186.0 531.5,1187.0 534.5,1189.5 537.5,1191.6 540.5,1194.3 543.5,1197.3 546.5,1200.0 549.0,1199.6 551.5,1197.2 554.0,1195.8 556.9,1189.3 559.9,1180.0 562.8,1173.2 566.3,1169.6 569.8,1163.9 573.4,1159.0 576.9,1155.7 580.4,1150.6 583.9,1148.0 587.4,1142.5 591.0,1139.5 594.5,1137.1 598.0,1133.0 600.5,1132.5 603.0,1132.1 605.5,1132.5 608.0,1134.8 610.5,1138.2 613.0,1142.6 615.8,1141.6 618.6,1141.2 621.5,1139.9 624.3,1137.6 626.8,1139.7 629.3,1141.8 631.8,1140.8 634.4,1141.4 636.9,1141.8 639.8,1139.9 642.8,1137.5 645.7,1134.3 648.8,1129.0 652.0,1122.4 655.1,1117.4 658.2,1111.7 661.6,1109.6 664.9,1107.8 668.3,1105.4 671.4,1101.4 674.5,1099.5 677.7,1095.9 680.8,1091.6 684.1,1088.4 687.3,1086.1 690.6,1084.9 693.8,1081.1 697.1,1079.1 700.2,1082.4 703.4,1083.8 706.6,1086.5 709.7,1088.4 712.5,1086.3 715.4,1082.7 718.2,1080.4 721.0,1078.3 724.1,1077.0 727.2,1077.2 730.4,1076.5 733.5,1075.3 737.0,1070.1 740.4,1067.4 743.8,1061.9 747.3,1057.7 750.2,1054.2 753.2,1051.7 756.1,1048.9 759.2,1052.8 762.4,1054.7 765.6,1057.6 768.7,1060.2 771.5,1060.0 774.4,1059.0 777.2,1057.4 780.0,1055.7 782.8,1057.0 785.6,1058.8 788.4,1060.9 791.2,1061.5 794.6,1068.4 797.9,1074.2 801.3,1080.3 804.4,1084.4 807.5,1088.8 810.7,1094.0 813.8,1097.9 816.8,1102.3 819.8,1105.4 822.9,1111.1 825.9,1115.8 828.9,1119.2 832.0,1118.9 835.2,1118.2 838.4,1117.3 841.5,1115.5 844.5,1113.1 847.5,1111.1 850.5,1107.7 853.5,1104.5 856.5,1102.9 859.7,1101.6 863.0,1100.5 866.2,1099.9 874.3,1105.6 877.3,1120.7 879.3,1151.0 881.5,1201.0 884.5,1262.0 888.3,1332.0 893.0,1400.0 897.0,1426.0 901.5,1447.0 905.0,1437.0 910.5,1410.0 916.0,1385.0 922.5,1345.0 930.5,1290.0 939.0,1232.0 946.5,1188.0"/>
<polyline points="87.9,1404.3 193.3,1404.3 200.8,1412.6 203.3,1413.8 205.8,1416.4 208.3,1417.7 211.7,1422.7 215.0,1427.7 218.4,1431.5 221.3,1436.2 224.3,1441.8 227.2,1447.8 229.7,1449.4 232.2,1451.9 234.7,1454.8 237.6,1455.7 240.6,1454.9 243.5,1456.1 246.6,1453.6 249.8,1450.4 252.9,1448.1 256.0,1446.0 259.1,1446.7 262.3,1447.8 265.5,1455.4 268.6,1461.6 271.9,1463.5 275.3,1463.9 278.6,1466.6 280.5,1465.5 282.4,1465.3 285.3,1466.9 288.3,1470.9 291.2,1472.4 294.3,1470.4 297.4,1467.7 300.6,1465.0 303.7,1461.6 306.2,1461.9 308.7,1462.1 311.2,1460.8 314.0,1459.1 316.9,1455.6 319.7,1454.6 322.5,1451.5 325.4,1446.9 328.4,1442.9 331.3,1437.7 333.8,1432.8 336.4,1427.5 338.9,1422.7 341.8,1416.5 344.7,1410.8 347.6,1405.1 350.4,1402.2 353.2,1399.3 356.1,1398.3 358.9,1395.1 361.9,1395.8 364.9,1396.2 368.0,1395.6 371.0,1395.4 374.0,1395.3 377.3,1389.6 380.7,1382.0 384.0,1376.5 387.4,1368.5 390.7,1359.6 394.1,1351.4 397.4,1341.5 400.8,1332.3 404.1,1323.8 407.5,1317.1 410.8,1309.9 414.2,1303.7 417.3,1297.0 420.4,1290.8 423.6,1283.7 426.7,1277.4 430.0,1275.5 433.4,1275.2 436.7,1274.1 440.1,1273.0 443.5,1273.1 446.7,1272.3 449.9,1271.9 453.1,1272.3 456.2,1274.6 459.3,1277.4 462.4,1278.6 465.6,1282.1 468.8,1284.9 471.9,1286.1 475.2,1288.4 478.6,1291.6 481.9,1293.7 485.0,1296.1 488.2,1295.5 491.3,1297.9 494.4,1294.2 497.6,1292.7 500.7,1289.8 503.8,1286.1 507.0,1278.7 510.1,1270.6 513.5,1269.4 517.0,1269.4 520.5,1269.9 523.9,1268.6 527.2,1267.2 530.4,1264.7 533.7,1261.2 536.9,1260.3 540.2,1257.3 543.7,1254.8 547.1,1253.4 550.5,1249.9 554.0,1248.5 556.8,1253.0 559.6,1255.6 562.5,1259.3 565.3,1262.3 568.6,1263.3 571.9,1265.9 575.1,1267.5 578.4,1269.1 581.7,1270.6 585.0,1266.3 588.4,1263.0 591.7,1258.5 594.5,1252.5 597.4,1246.7 600.2,1240.8 603.0,1235.9 606.5,1233.0 609.9,1228.4 613.3,1225.3 616.8,1222.6 618.7,1225.2 620.6,1229.7 623.9,1229.7 627.3,1229.3 630.6,1228.9 633.4,1225.4 636.2,1220.7 639.1,1218.0 641.9,1214.6 644.8,1216.4 647.8,1217.9 650.7,1220.9 653.6,1225.7 656.6,1233.7 659.5,1238.5 662.4,1249.4 665.4,1261.5 668.3,1273.6 670.8,1269.6 673.3,1266.8 675.8,1263.1 679.1,1261.8 682.3,1262.2 685.6,1261.5 688.8,1262.2 692.1,1261.0 695.0,1263.3 698.0,1267.4 700.9,1271.1 704.2,1277.0 707.6,1283.9 710.9,1288.7 713.7,1291.5 716.5,1294.2 719.4,1297.5 722.2,1299.9 725.1,1299.5 728.1,1298.9 731.0,1299.9 733.9,1298.2 736.9,1297.5 739.8,1294.9 742.6,1290.1 745.5,1283.7 748.3,1279.3 751.1,1273.6 754.4,1273.1 757.8,1270.5 761.1,1269.8 763.9,1271.6 766.8,1272.6 769.6,1274.0 772.4,1276.1 775.5,1279.4 778.7,1283.6 781.8,1284.2 785.0,1285.8 788.1,1286.4 791.2,1288.7 794.6,1293.1 797.9,1297.0 801.3,1302.5 804.2,1305.8 807.2,1308.2 810.1,1310.7 813.4,1307.4 816.6,1307.0 819.9,1303.5 823.1,1302.0 826.4,1299.9 829.7,1298.3 832.9,1296.1 836.2,1294.2 839.4,1292.8 842.7,1291.2 846.1,1287.6 849.4,1286.4 852.8,1281.9 856.1,1280.0 858.8,1286.8 861.5,1291.5 864.2,1298.2 873.3,1313.4 876.3,1322.4 879.3,1352.7 881.4,1400.0 884.1,1428.8 889.0,1487.6 894.9,1546.5 899.8,1573.9 903.7,1585.7 907.6,1581.8 912.5,1546.5 918.4,1507.3 926.3,1468.0 934.1,1440.0 940.0,1428.0 945.9,1417.1"/>
<polyline points="87.9,1453.5 193.3,1453.5 200.8,1482.9 204.1,1490.4 207.5,1500.1 210.8,1508.0 213.3,1511.9 215.9,1516.2 218.4,1518.8 221.5,1520.8 224.6,1523.8 227.5,1520.9 230.5,1519.6 233.4,1516.8 236.3,1510.0 239.3,1502.2 242.2,1495.5 245.0,1494.0 247.8,1491.5 250.7,1490.4 253.5,1487.9 256.9,1490.0 260.2,1493.2 263.6,1496.7 266.9,1500.5 270.3,1502.3 273.6,1505.5 276.7,1506.8 279.9,1509.8 283.0,1511.0 286.1,1511.1 289.3,1509.9 292.4,1510.5 295.2,1511.9 298.0,1513.4 300.9,1513.5 303.7,1515.5 307.1,1510.8 310.4,1504.7 313.8,1500.5 317.3,1496.1 320.8,1491.5 324.3,1487.8 327.8,1485.5 331.3,1480.4 333.8,1473.5 336.4,1468.1 338.9,1460.3 341.4,1452.6 343.9,1445.5 346.4,1437.7 348.9,1436.9 351.4,1434.8 353.9,1432.7 357.3,1431.8 360.6,1432.9 364.0,1432.7 367.3,1431.3 370.7,1428.7 374.0,1427.7 377.0,1426.3 380.0,1427.5 383.1,1426.2 386.1,1425.0 389.1,1425.2 392.4,1420.9 395.8,1416.2 399.1,1412.6 401.6,1407.4 404.1,1400.9 406.6,1395.1 409.1,1390.5 411.7,1388.4 414.2,1384.0 417.5,1378.9 420.9,1375.2 424.2,1371.5 427.3,1365.4 430.4,1362.0 433.6,1355.6 436.7,1351.4 439.9,1347.4 443.0,1342.4 446.1,1339.1 449.3,1335.1 452.6,1333.6 456.0,1331.3 459.3,1329.3 462.7,1328.6 466.0,1328.1 469.4,1327.6 471.9,1326.4 474.4,1325.7 476.9,1324.5 479.4,1324.6 481.9,1326.5 484.4,1327.6 487.5,1332.6 490.4,1339.1 493.4,1347.6 496.3,1353.9 498.8,1359.5 501.3,1362.1 503.8,1367.7 507.0,1364.4 510.1,1362.7 513.5,1356.9 516.8,1350.3 520.2,1343.9 523.3,1337.8 526.5,1334.3 529.6,1329.8 532.7,1323.8 536.1,1318.2 539.4,1312.6 542.8,1307.5 545.9,1304.8 549.0,1301.7 551.9,1302.8 554.9,1301.4 557.8,1302.0 560.7,1304.4 563.7,1307.0 566.6,1310.5 570.0,1308.8 573.5,1306.4 577.0,1304.0 580.4,1302.5 583.9,1300.7 587.4,1298.4 591.0,1297.5 594.5,1297.5 598.0,1294.9 601.5,1290.7 604.9,1285.7 608.3,1282.7 611.8,1277.4 615.1,1276.7 618.3,1276.1 621.6,1275.3 624.8,1275.2 628.1,1275.6 631.0,1273.0 634.0,1271.1 636.9,1269.8 639.4,1270.6 641.9,1269.3 644.4,1269.8 646.3,1272.4 648.2,1276.1 651.5,1279.1 654.9,1282.6 658.2,1284.4 661.6,1281.2 664.9,1279.4 668.3,1276.1 671.6,1273.7 675.0,1272.0 678.3,1269.8 681.4,1267.8 684.5,1266.4 687.7,1263.8 690.8,1261.0 693.3,1260.6 695.9,1261.0 698.4,1259.8 700.9,1256.6 703.4,1253.7 705.9,1251.0 709.2,1249.1 712.6,1245.2 715.9,1242.2 718.5,1241.0 721.0,1238.5 724.3,1237.5 727.7,1238.2 731.0,1236.7 734.3,1239.2 737.7,1240.7 741.0,1243.5 742.9,1243.0 744.8,1240.5 748.2,1242.7 751.5,1244.6 754.9,1247.2 758.0,1251.7 761.1,1257.3 764.0,1258.9 767.0,1261.6 769.9,1264.8 772.7,1264.0 775.5,1261.5 778.4,1260.5 781.2,1259.8 783.1,1257.2 785.0,1254.8 786.9,1258.0 788.7,1261.0 792.1,1261.2 795.4,1262.5 798.8,1262.3 802.1,1254.5 805.5,1247.5 808.8,1240.5 812.2,1240.3 815.7,1239.7 819.1,1239.9 822.6,1240.5 825.4,1237.0 828.2,1235.6 831.1,1231.6 833.9,1229.7 836.9,1226.9 839.9,1222.8 843.0,1220.5 846.0,1217.4 849.0,1213.9 852.3,1213.4 855.7,1214.5 859.0,1213.4 862.1,1221.2 865.3,1228.4 873.3,1241.7 876.3,1257.9 880.3,1292.2 883.4,1362.8 886.1,1428.8 891.0,1487.6 896.9,1546.5 901.8,1573.9 906.7,1566.1 914.5,1526.9 922.4,1477.8 930.2,1428.8 938.0,1384.7 947.8,1370.0"/>
<polyline points="87.9,1439.5 193.3,1439.5 200.8,1444.0 203.3,1445.3 205.8,1443.5 208.3,1444.8 211.7,1449.3 215.0,1451.9 218.4,1456.6 221.5,1459.8 224.7,1459.9 227.8,1464.0 230.9,1465.3 234.3,1469.9 237.6,1474.5 241.0,1477.9 244.1,1481.5 247.2,1482.3 250.4,1485.0 253.5,1487.9 256.9,1492.6 260.2,1495.8 263.6,1500.5 266.1,1503.7 268.6,1507.4 271.1,1511.8 273.6,1513.6 276.1,1513.8 279.4,1514.4 282.8,1513.9 286.1,1513.0 289.5,1507.0 292.8,1503.1 296.2,1496.7 299.1,1493.8 302.1,1490.2 305.0,1487.9 307.8,1484.7 310.6,1481.5 313.5,1477.6 316.3,1475.4 319.6,1474.9 323.0,1473.9 326.3,1473.6 329.3,1473.1 332.3,1473.3 335.4,1472.0 338.4,1470.8 341.4,1470.4 344.7,1467.0 348.1,1463.1 351.4,1457.8 354.5,1457.0 357.7,1457.3 360.9,1454.5 364.0,1454.8 366.8,1454.5 369.6,1455.0 372.5,1457.1 375.3,1456.6 378.1,1454.5 380.9,1452.0 383.7,1448.6 386.5,1446.5 389.6,1444.0 392.8,1442.4 396.0,1438.1 399.1,1436.5 402.2,1431.0 405.4,1426.1 408.5,1422.3 411.6,1417.7 415.1,1414.7 418.6,1410.3 422.0,1406.2 425.5,1402.6 428.3,1401.4 431.1,1399.4 433.9,1399.8 436.7,1397.6 439.7,1396.3 442.7,1395.0 445.8,1394.1 448.8,1394.2 451.8,1392.5 454.9,1394.6 458.1,1398.4 461.2,1399.7 464.4,1402.6 467.7,1404.1 471.1,1405.0 474.4,1407.6 477.5,1407.9 480.6,1407.0 483.8,1405.7 486.9,1405.1 489.9,1399.0 492.9,1394.5 495.8,1389.0 498.8,1384.0 501.7,1382.9 504.7,1381.3 507.6,1378.5 510.6,1378.6 513.6,1377.2 516.7,1376.3 519.7,1377.8 522.7,1376.5 526.2,1375.0 529.7,1370.7 533.2,1369.0 536.7,1366.5 540.2,1364.0 543.4,1366.9 546.5,1367.7 549.3,1367.0 552.1,1367.4 555.0,1369.4 557.8,1369.0 560.3,1379.0 563.2,1383.4 566.2,1387.3 569.1,1391.6 571.9,1394.1 574.8,1395.6 577.6,1397.6 580.4,1399.1 583.7,1395.6 587.1,1392.3 590.4,1390.3 593.3,1385.5 596.3,1382.4 599.2,1379.0 602.6,1377.8 605.9,1375.7 609.3,1374.5 612.6,1368.6 616.0,1363.6 619.3,1357.7 622.1,1355.6 625.0,1352.9 627.8,1349.7 630.6,1347.6 633.6,1349.7 636.6,1351.0 639.7,1352.5 642.7,1353.9 645.7,1354.4 649.0,1353.6 652.4,1355.3 655.7,1355.2 658.9,1357.1 662.0,1359.4 665.1,1361.8 668.3,1364.0 671.8,1363.1 675.3,1363.2 678.8,1364.8 682.3,1363.2 685.8,1363.5 689.0,1367.2 692.1,1369.0 695.0,1366.5 698.0,1362.7 700.9,1360.2 703.4,1359.5 705.9,1359.9 708.4,1359.4 711.8,1357.2 715.1,1353.7 718.5,1351.4 721.6,1352.0 724.8,1353.8 727.9,1356.9 731.0,1357.7 734.0,1357.2 737.0,1354.8 740.1,1355.4 743.1,1353.9 746.1,1352.7 749.2,1351.1 752.4,1351.0 755.5,1348.1 758.6,1347.6 762.0,1352.1 765.5,1358.0 769.0,1364.2 772.4,1369.0 775.8,1370.6 779.1,1372.0 782.5,1373.5 785.8,1371.8 789.0,1368.1 792.3,1366.5 795.5,1362.2 798.8,1360.7 802.1,1360.7 805.5,1358.7 808.8,1358.9 812.3,1360.0 815.8,1361.2 819.4,1361.5 822.9,1362.1 826.4,1362.7 829.9,1361.9 833.4,1361.5 837.0,1359.8 840.5,1358.6 844.0,1358.3 847.0,1361.0 850.0,1363.4 853.1,1365.0 856.1,1368.4 858.8,1369.6 861.5,1370.7 864.2,1371.9 867.2,1374.6 870.3,1378.9 875.3,1380.9 879.2,1393.5 882.2,1428.8 887.1,1487.6 892.9,1546.5 898.8,1605.3 902.7,1625.9 907.6,1615.1 912.5,1585.7 918.4,1546.5 924.3,1517.1 932.2,1487.6 938.0,1462.2 945.9,1448.4"/>
<polyline points="87.9,1538.6 195.8,1538.6 208.3,1540.6 211.4,1543.4 214.6,1546.9 217.8,1552.5 220.9,1558.2 224.2,1561.8 227.6,1565.6 230.9,1569.5 233.4,1570.6 236.0,1572.4 238.5,1573.3 241.4,1572.9 244.3,1573.9 247.2,1573.8 249.7,1575.9 252.3,1579.7 254.8,1583.3 257.3,1587.5 259.8,1591.7 262.3,1597.1 265.5,1600.8 268.6,1603.4 271.1,1602.3 273.6,1602.1 275.5,1603.7 277.4,1604.1 279.9,1603.2 282.4,1599.8 284.9,1598.4 287.8,1595.5 290.8,1591.5 293.7,1587.1 296.8,1584.6 299.9,1580.4 303.1,1578.5 306.2,1575.8 309.2,1573.6 312.2,1570.3 315.3,1567.6 318.3,1565.3 321.3,1563.2 324.2,1559.3 327.2,1557.2 330.1,1553.2 332.9,1551.3 335.8,1549.9 338.6,1548.8 341.4,1546.9 344.4,1546.8 347.4,1544.2 350.4,1542.6 353.4,1543.5 356.4,1541.4 359.9,1542.2 363.4,1542.2 367.0,1541.8 370.5,1541.2 374.0,1541.9 377.3,1540.3 380.7,1539.8 384.0,1539.4 386.5,1537.2 389.1,1534.2 391.6,1533.1 394.7,1529.1 397.9,1524.8 401.0,1518.8 404.1,1515.5 407.2,1511.9 410.4,1506.7 413.6,1503.3 416.7,1498.0 419.7,1497.4 422.7,1497.7 425.7,1496.4 428.7,1496.2 431.7,1495.5 434.7,1494.9 437.7,1493.2 440.8,1492.9 443.8,1492.4 446.8,1492.4 449.8,1493.3 452.8,1494.4 455.8,1495.8 458.8,1497.2 461.8,1498.0 464.3,1497.9 466.9,1497.9 469.4,1498.5 472.7,1494.2 476.1,1490.8 479.4,1485.4 482.8,1482.0 486.1,1477.7 489.5,1473.4 492.6,1472.4 495.6,1473.9 498.6,1473.5 501.6,1474.0 504.6,1474.9 507.6,1476.6 511.0,1471.2 514.3,1466.3 517.7,1462.8 520.8,1456.8 523.9,1450.3 527.0,1449.3 530.1,1445.6 533.2,1444.5 536.2,1447.0 539.2,1449.6 542.3,1451.3 545.3,1452.8 548.3,1452.3 551.3,1453.6 554.3,1453.0 557.3,1453.1 560.3,1454.0 563.3,1454.4 566.3,1457.1 569.4,1459.5 572.4,1459.2 575.4,1461.6 578.5,1459.2 581.6,1458.2 584.8,1455.9 587.9,1455.3 590.9,1452.2 593.9,1449.8 597.0,1446.2 600.0,1442.2 603.0,1440.2 605.9,1435.8 608.9,1432.9 611.8,1430.2 614.3,1431.2 616.8,1431.5 619.3,1437.0 621.8,1440.7 624.3,1445.3 627.5,1446.9 630.6,1450.3 633.9,1445.1 637.3,1440.9 640.6,1436.5 644.0,1435.4 647.3,1435.1 650.7,1435.7 653.2,1437.9 655.7,1441.2 658.2,1442.8 661.6,1446.0 664.9,1451.1 668.3,1454.0 671.2,1455.3 674.1,1454.7 677.0,1455.3 679.9,1451.8 682.9,1448.7 685.8,1446.5 689.0,1443.1 692.1,1439.0 695.5,1441.2 699.0,1442.7 702.5,1442.7 705.9,1444.8 709.0,1445.4 712.2,1445.2 715.4,1446.6 718.5,1447.8 721.8,1446.3 725.2,1445.0 728.5,1444.8 731.6,1444.3 734.8,1446.7 737.9,1445.6 741.0,1446.5 744.4,1448.6 747.7,1450.8 751.1,1452.8 754.2,1454.6 757.4,1456.7 760.5,1458.4 763.6,1460.3 766.8,1461.9 769.9,1462.5 773.1,1465.3 776.2,1466.6 779.1,1467.4 782.1,1468.0 785.0,1467.9 787.5,1462.5 790.0,1457.8 792.5,1452.8 795.6,1445.9 798.8,1437.7 802.2,1436.8 805.7,1434.0 809.1,1433.2 812.6,1432.2 816.0,1434.8 819.5,1439.2 823.0,1441.8 826.4,1445.3 828.9,1446.3 831.4,1447.8 834.7,1446.5 838.1,1446.4 841.4,1445.8 844.9,1447.8 848.3,1449.2 851.8,1450.4 854.4,1452.7 857.0,1456.0 859.6,1459.2 863.0,1462.4 866.5,1465.1 868.5,1462.7 870.4,1462.2 876.3,1466.1 879.2,1475.9 882.2,1507.3 887.1,1546.5 892.0,1595.5 896.9,1640.6 899.8,1653.3 904.7,1644.5 908.6,1632.7 914.5,1605.3 918.4,1585.7 924.3,1570.0 930.2,1562.2 936.1,1550.4 941.0,1532.7 945.9,1523.9"/>
<polyline points="87.9,1614.7 193.3,1614.7 200.8,1622.2 204.0,1624.4 207.1,1627.3 210.2,1629.8 213.4,1631.0 216.8,1634.6 220.3,1639.7 223.8,1643.7 227.2,1647.3 230.5,1648.5 233.9,1648.1 237.2,1649.8 240.0,1651.3 242.8,1654.6 245.7,1657.9 248.5,1659.9 251.0,1660.9 253.5,1662.9 256.0,1664.4 258.5,1662.5 261.1,1662.2 263.6,1659.9 266.7,1658.1 269.9,1654.0 273.0,1652.5 276.1,1648.6 279.1,1647.5 282.1,1649.1 285.2,1649.1 288.2,1647.4 291.2,1648.1 294.3,1647.6 297.4,1646.2 300.6,1646.1 303.7,1644.1 306.9,1645.5 310.0,1648.3 313.1,1651.1 316.3,1652.3 318.8,1653.5 321.3,1653.6 323.8,1654.9 327.1,1653.5 330.5,1655.0 333.8,1653.6 336.9,1655.1 340.1,1657.8 343.2,1657.5 346.4,1659.9 348.9,1658.5 351.4,1656.4 353.9,1653.6 357.0,1648.7 360.2,1640.9 363.4,1635.8 366.5,1630.3 369.6,1629.7 372.8,1631.6 375.9,1631.1 379.0,1631.8 382.3,1630.0 385.5,1625.9 388.8,1623.9 392.0,1621.3 395.3,1617.7 398.6,1618.0 401.8,1619.6 405.1,1621.4 408.3,1621.4 411.6,1622.2 415.1,1621.8 418.6,1621.4 422.2,1622.4 425.7,1621.0 429.2,1621.5 432.4,1623.2 435.5,1624.5 438.6,1625.9 441.8,1627.2 444.7,1625.0 447.7,1624.7 450.6,1623.0 453.5,1619.0 456.4,1612.9 459.3,1608.4 462.7,1605.1 466.0,1603.4 469.4,1599.6 472.8,1597.8 476.3,1595.1 479.8,1592.5 483.2,1591.6 486.1,1593.4 489.1,1593.8 492.0,1595.4 494.8,1597.4 497.6,1599.6 500.1,1599.5 502.6,1600.8 505.1,1600.9 508.4,1596.5 511.8,1590.7 515.1,1586.3 518.2,1585.8 521.4,1587.1 524.3,1591.1 527.3,1593.9 530.2,1595.9 533.1,1596.9 536.1,1600.2 539.0,1602.1 542.1,1602.1 545.2,1601.0 548.4,1601.3 551.5,1600.4 554.4,1599.5 557.4,1596.7 560.3,1594.6 563.8,1591.4 567.2,1588.0 570.6,1585.2 574.1,1582.8 577.2,1582.2 580.4,1582.3 583.5,1582.7 586.7,1584.2 589.9,1583.7 593.0,1583.8 596.3,1582.2 599.7,1580.2 603.0,1577.0 605.9,1576.0 608.9,1572.7 611.8,1572.0 614.9,1575.0 618.0,1575.3 621.2,1578.8 624.3,1580.3 627.6,1581.5 630.8,1581.6 634.1,1581.6 637.3,1581.4 640.6,1582.8 643.1,1583.6 645.7,1586.4 648.2,1587.8 651.1,1587.4 654.1,1588.2 657.0,1588.3 659.8,1585.3 662.6,1582.6 665.5,1580.3 668.3,1578.3 671.6,1577.3 675.0,1575.3 678.3,1573.8 681.1,1573.6 684.0,1573.8 686.8,1573.9 689.6,1573.8 692.5,1572.7 695.5,1571.3 698.4,1570.3 701.3,1571.5 704.3,1571.2 707.2,1570.8 710.7,1572.4 714.1,1574.8 717.5,1576.6 721.0,1579.5 724.3,1579.6 727.7,1579.3 731.0,1580.8 734.3,1583.4 737.7,1585.1 741.0,1587.1 743.5,1589.0 746.1,1592.2 748.6,1593.4 751.1,1592.6 753.6,1592.7 756.1,1592.1 759.4,1590.8 762.8,1587.7 766.1,1585.3 769.2,1585.4 772.4,1584.7 775.6,1585.9 778.7,1584.6 782.2,1582.0 785.6,1577.9 789.0,1574.8 792.5,1572.0 796.0,1573.8 799.4,1575.2 802.8,1576.8 806.3,1578.3 809.4,1577.8 812.6,1578.9 815.7,1579.3 818.8,1579.7 822.0,1579.2 825.1,1579.5 828.0,1583.1 831.0,1587.0 833.9,1590.8 837.0,1594.2 840.0,1597.5 843.0,1597.9 845.9,1598.4 849.3,1596.4 852.7,1596.5 855.7,1591.6 858.3,1589.6 860.9,1589.8 863.5,1587.3 866.5,1589.0 869.4,1589.2 873.3,1587.3 878.2,1595.5 881.2,1615.1 882.2,1700.4"/>
<polyline points="87.9,1672.4 193.3,1672.4 200.8,1682.5 203.6,1686.4 206.4,1692.0 209.3,1695.9 212.1,1700.8"/>
<polyline points="409.6,1700.8 411.9,1693.3 414.2,1685.0 417.5,1679.3 420.9,1672.4 424.2,1666.1 426.7,1662.0 429.2,1657.5 431.7,1653.6 434.6,1653.4 437.6,1650.6 440.5,1649.8 443.0,1645.7 445.5,1642.6 448.0,1639.8 451.1,1636.8 454.3,1634.8 456.8,1636.3 459.3,1638.5 462.5,1635.5 465.6,1633.5 468.8,1632.6 471.9,1633.5 474.4,1635.6 476.9,1638.1 479.4,1641.0 482.3,1637.0 485.3,1632.0 488.2,1628.5 491.3,1624.5 494.4,1621.8 497.6,1619.5 500.7,1616.2 503.8,1613.4 506.4,1603.9 508.9,1593.4 512.4,1589.7 515.8,1584.4 519.2,1579.3 522.7,1575.8 525.6,1567.9 528.6,1559.6 531.5,1550.7 534.3,1545.4 537.1,1541.0 539.9,1535.2 542.7,1530.6 545.5,1527.7 548.4,1523.8 551.2,1519.9 554.0,1515.5 557.1,1522.8 560.3,1528.1 563.5,1531.0 566.6,1535.1 569.1,1533.6 571.6,1531.9 574.1,1533.0 576.6,1533.1 579.5,1530.4 582.5,1526.2 585.4,1523.1 588.3,1518.5 591.3,1515.8 594.2,1511.8 597.7,1509.4 601.1,1509.1 604.5,1506.0 608.0,1505.5 611.1,1502.9 614.3,1500.5 617.5,1497.2 620.6,1495.5 623.1,1493.5 625.6,1491.6 628.1,1489.7 631.2,1488.8 634.4,1488.4 637.3,1490.8 640.3,1492.3 643.2,1493.0 645.7,1496.8 648.2,1498.2 650.7,1501.7 653.6,1502.6 656.6,1505.3 659.5,1507.5 662.4,1504.3 665.4,1503.3 668.3,1500.5 671.6,1499.8 675.0,1499.3 678.3,1500.0 680.8,1500.4 683.3,1501.5 685.8,1502.5 688.3,1500.9 690.9,1498.1 693.4,1496.0 695.9,1495.6 698.4,1496.4 700.9,1496.0 704.2,1492.7 707.6,1490.8 710.9,1489.2 714.0,1491.7 717.2,1493.9 720.4,1494.5 723.5,1497.5 726.8,1493.9 730.2,1492.3 733.5,1489.7 736.9,1489.4 740.2,1487.4 743.6,1487.9 746.5,1486.5 749.4,1484.9 752.3,1484.2 755.5,1487.7 758.6,1493.0 761.1,1498.9 763.6,1505.9 766.1,1513.0 768.6,1517.1 771.2,1520.5 773.7,1525.6 776.2,1527.8 778.7,1530.3 781.2,1531.4 784.4,1528.9 787.5,1525.6 790.6,1515.8 793.8,1508.0 795.6,1505.8 797.5,1503.0 800.4,1501.6 803.4,1498.6 806.3,1498.0 809.6,1496.5 813.0,1495.8 816.3,1494.2 818.8,1497.3 821.4,1499.3 823.9,1500.5 826.7,1499.7 829.5,1498.8 832.4,1498.7 835.2,1496.7 838.4,1497.7 841.5,1500.0 844.6,1500.7 847.8,1503.3 850.5,1505.1 853.2,1506.1 855.9,1506.3 858.6,1508.2 862.0,1515.9 865.5,1524.9 873.3,1525.9 876.3,1538.6 880.2,1575.9 886.1,1634.7 892.0,1679.8 896.9,1700.4"/>
<polyline points="917.5,1700.4 926.3,1679.8 936.1,1654.3 942.0,1644.5 945.9,1642.5"/>
</g>
<text class="lab" x="419.2" y="1115.0" text-anchor="middle" textLength="16" lengthAdjust="spacingAndGlyphs" style="font-size:22px">III</text>
<line class="ax" x1="418.7" y1="1119.2" x2="418.7" y2="1136.8" stroke-width="1.9"/>
<text class="lab" x="490.2" y="1082.8" text-anchor="middle" textLength="12.6" lengthAdjust="spacingAndGlyphs" style="font-size:22.5px">V</text>
<line class="ax" x1="490.2" y1="1086.6" x2="490.2" y2="1104.2" stroke-width="1.9"/>
<text class="lab" x="419.2" y="1156.9" text-anchor="middle" textLength="16" lengthAdjust="spacingAndGlyphs" style="font-size:22px">III</text>
<line class="ax" x1="418.7" y1="1161.9" x2="418.7" y2="1178.7" stroke-width="1.9"/>
<text class="lab" x="483.2" y="1124.2" text-anchor="middle" textLength="12.6" lengthAdjust="spacingAndGlyphs" style="font-size:22.5px">V</text>
<line class="ax" x1="483.2" y1="1129.3" x2="483.2" y2="1146.3" stroke-width="1.9"/>
<text class="lab" x="443.5" y="1251.0" text-anchor="middle" textLength="16" lengthAdjust="spacingAndGlyphs" style="font-size:22px">III</text>
<line class="ax" x1="443.5" y1="1256.0" x2="443.5" y2="1273.1" stroke-width="1.9"/>
<text class="lab" x="476.2" y="1302.5" text-anchor="middle" textLength="16" lengthAdjust="spacingAndGlyphs" style="font-size:22px">III</text>
<line class="ax" x1="476.2" y1="1307.5" x2="476.2" y2="1324.3" stroke-width="1.9"/>
<text class="lab" x="554.0" y="1223.4" text-anchor="middle" textLength="12.6" lengthAdjust="spacingAndGlyphs" style="font-size:22.5px">V</text>
<line class="ax" x1="554.0" y1="1228.4" x2="554.0" y2="1248.5" stroke-width="1.9"/>
<text class="lab" x="554.0" y="1278.6" text-anchor="middle" textLength="12.6" lengthAdjust="spacingAndGlyphs" style="font-size:22.5px">V</text>
<line class="ax" x1="554.0" y1="1283.6" x2="554.0" y2="1301.2" stroke-width="1.9"/>
<text class="lab" x="557.8" y="1348.9" text-anchor="middle" textLength="12.6" lengthAdjust="spacingAndGlyphs" style="font-size:22.5px">V</text>
<line class="ax" x1="557.8" y1="1352.7" x2="557.8" y2="1369.5" stroke-width="1.9"/>
<text class="lab" x="533.4" y="1421.4" text-anchor="middle" textLength="16" lengthAdjust="spacingAndGlyphs" style="font-size:22px">III</text>
<line class="ax" x1="533.2" y1="1426.4" x2="533.2" y2="1444.5" stroke-width="1.9"/>
<text class="lab" x="611.8" y="1407.6" text-anchor="middle" textLength="12.6" lengthAdjust="spacingAndGlyphs" style="font-size:22.5px">V</text>
<line class="ax" x1="611.8" y1="1411.4" x2="611.8" y2="1430.2" stroke-width="1.9"/>
<text class="lab" x="554.3" y="1492.2" text-anchor="middle" textLength="16" lengthAdjust="spacingAndGlyphs" style="font-size:22px">III</text>
<line class="ax" x1="554.3" y1="1496.7" x2="554.3" y2="1515.5" stroke-width="1.9"/>
<text class="lab" x="634.6" y="1466.6" text-anchor="middle" textLength="12.6" lengthAdjust="spacingAndGlyphs" style="font-size:22.5px">V</text>
<line class="ax" x1="634.4" y1="1470.9" x2="634.4" y2="1488.4" stroke-width="1.9"/>
</g>
<g id="panel-b">
<text class="pl" x="1945.0" y="24.1">(b)</text>
<g filter="url(#blurA)">
<line x1="1169.7" y1="130.3" x2="1973.4" y2="130.3" stroke="#6e6e6e" stroke-width="2.3" stroke-dasharray="5.19 5.86"/>
<line x1="1169.7" y1="145.0" x2="1973.4" y2="145.0" stroke="#6e6e6e" stroke-width="2.3" stroke-dasharray="5.19 5.86"/>
<line x1="1169.7" y1="162.0" x2="1973.4" y2="162.0" stroke="#6e6e6e" stroke-width="2.3" stroke-dasharray="5.19 5.86"/>
<line x1="1169.7" y1="178.4" x2="1973.4" y2="178.4" stroke="#6e6e6e" stroke-width="2.3" stroke-dasharray="5.19 5.86"/>
<line x1="1169.7" y1="193.3" x2="1973.4" y2="193.3" stroke="#6e6e6e" stroke-width="2.3" stroke-dasharray="5.19 5.86"/>
<line x1="1169.7" y1="209.7" x2="1973.4" y2="209.7" stroke="#6e6e6e" stroke-width="2.3" stroke-dasharray="5.19 5.86"/>
<line x1="1169.7" y1="226.2" x2="1973.4" y2="226.2" stroke="#6e6e6e" stroke-width="2.3" stroke-dasharray="5.19 5.86"/>
<line x1="1169.7" y1="241.0" x2="1973.4" y2="241.0" stroke="#6e6e6e" stroke-width="2.3" stroke-dasharray="5.19 5.86"/>
<line x1="1169.7" y1="257.8" x2="1973.4" y2="257.8" stroke="#6e6e6e" stroke-width="2.3" stroke-dasharray="5.19 5.86"/>
<line x1="1169.7" y1="273.3" x2="1973.4" y2="273.3" stroke="#6e6e6e" stroke-width="2.3" stroke-dasharray="5.19 5.86"/>
<line x1="1184.2" y1="119.3" x2="1184.2" y2="278.3" stroke="#858585" stroke-width="2.6" stroke-dasharray="4.42 6.63"/>
<line x1="1221.2" y1="119.3" x2="1221.2" y2="278.3" stroke="#858585" stroke-width="2.6" stroke-dasharray="4.42 6.63"/>
<line x1="1256.3" y1="119.3" x2="1256.3" y2="278.3" stroke="#858585" stroke-width="2.6" stroke-dasharray="4.42 6.63"/>
<line x1="1291.8" y1="119.3" x2="1291.8" y2="278.3" stroke="#858585" stroke-width="2.6" stroke-dasharray="4.42 6.63"/>
<line x1="1328.4" y1="119.3" x2="1328.4" y2="278.3" stroke="#858585" stroke-width="2.6" stroke-dasharray="4.42 6.63"/>
<line x1="1363.8" y1="119.3" x2="1363.8" y2="278.3" stroke="#858585" stroke-width="2.6" stroke-dasharray="4.42 6.63"/>
<line x1="1399.5" y1="119.3" x2="1399.5" y2="278.3" stroke="#858585" stroke-width="2.6" stroke-dasharray="4.42 6.63"/>
<line x1="1435.9" y1="119.3" x2="1435.9" y2="278.3" stroke="#858585" stroke-width="2.6" stroke-dasharray="4.42 6.63"/>
<line x1="1471.4" y1="119.3" x2="1471.4" y2="278.3" stroke="#858585" stroke-width="2.6" stroke-dasharray="4.42 6.63"/>
<line x1="1507.0" y1="119.3" x2="1507.0" y2="278.3" stroke="#858585" stroke-width="2.6" stroke-dasharray="4.42 6.63"/>
<line x1="1544.0" y1="119.3" x2="1544.0" y2="278.3" stroke="#858585" stroke-width="2.6" stroke-dasharray="4.42 6.63"/>
<line x1="1579.0" y1="119.3" x2="1579.0" y2="278.3" stroke="#858585" stroke-width="2.6" stroke-dasharray="4.42 6.63"/>
<line x1="1615.7" y1="119.3" x2="1615.7" y2="278.3" stroke="#858585" stroke-width="2.6" stroke-dasharray="4.42 6.63"/>
<line x1="1650.8" y1="119.3" x2="1650.8" y2="278.3" stroke="#858585" stroke-width="2.6" stroke-dasharray="4.42 6.63"/>
<line x1="1686.0" y1="119.3" x2="1686.0" y2="278.3" stroke="#858585" stroke-width="2.6" stroke-dasharray="4.42 6.63"/>
<line x1="1723.5" y1="119.3" x2="1723.5" y2="278.3" stroke="#858585" stroke-width="2.6" stroke-dasharray="4.42 6.63"/>
<line x1="1758.3" y1="119.3" x2="1758.3" y2="278.3" stroke="#858585" stroke-width="2.6" stroke-dasharray="4.42 6.63"/>
<line x1="1792.9" y1="119.3" x2="1792.9" y2="278.3" stroke="#858585" stroke-width="2.6" stroke-dasharray="4.42 6.63"/>
<line x1="1830.8" y1="119.3" x2="1830.8" y2="278.3" stroke="#858585" stroke-width="2.6" stroke-dasharray="4.42 6.63"/>
<line x1="1865.4" y1="119.3" x2="1865.4" y2="278.3" stroke="#858585" stroke-width="2.6" stroke-dasharray="4.42 6.63"/>
<line x1="1901.2" y1="119.3" x2="1901.2" y2="278.3" stroke="#858585" stroke-width="2.6" stroke-dasharray="4.42 6.63"/>
<line x1="1938.0" y1="119.3" x2="1938.0" y2="278.3" stroke="#858585" stroke-width="2.6" stroke-dasharray="4.42 6.63"/>
<line x1="1973.4" y1="119.3" x2="1973.4" y2="278.3" stroke="#858585" stroke-width="2.6" stroke-dasharray="4.42 6.63"/>
<circle cx="1184.3" cy="208.4" r="7.9" fill="#5b8fe8"/>
<circle cx="1221.1" cy="180.7" r="7.9" fill="#5b8fe8"/>
<circle cx="1256.5" cy="190.2" r="7.9" fill="#5b8fe8"/>
<circle cx="1291.9" cy="190.2" r="7.9" fill="#5b8fe8"/>
<circle cx="1328.7" cy="184" r="7.9" fill="#5b8fe8"/>
<circle cx="1364" cy="185.9" r="7.9" fill="#5b8fe8"/>
<circle cx="1399.4" cy="193.6" r="7.9" fill="#5b8fe8"/>
<circle cx="1436.2" cy="173" r="7.9" fill="#5b8fe8"/>
<circle cx="1471.6" cy="180.7" r="7.9" fill="#5b8fe8"/>
<circle cx="1506.9" cy="184" r="7.9" fill="#5b8fe8"/>
<circle cx="1543.7" cy="237.5" r="7.9" fill="#5b8fe8"/>
<circle cx="1579.1" cy="184" r="7.9" fill="#5b8fe8"/>
<circle cx="1615.9" cy="228.4" r="7.9" fill="#5b8fe8"/>
<circle cx="1651.3" cy="180.7" r="7.9" fill="#5b8fe8"/>
<circle cx="1686.2" cy="206.5" r="7.9" fill="#5b8fe8"/>
<circle cx="1723.4" cy="234.2" r="7.9" fill="#5b8fe8"/>
<circle cx="1758.3" cy="211.7" r="7.9" fill="#5b8fe8"/>
<circle cx="1793.7" cy="207.9" r="7.9" fill="#5b8fe8"/>
<circle cx="1831" cy="220.8" r="7.9" fill="#5b8fe8"/>
<circle cx="1865.9" cy="203.1" r="7.9" fill="#5b8fe8"/>
<circle cx="1901.2" cy="165.4" r="7.9" fill="#5b8fe8"/>
<line x1="1138.4" y1="130.3" x2="1160.9" y2="130.3" stroke="#343434" stroke-width="2.3"/>
<line x1="1160.9" y1="130.3" x2="1165.4" y2="130.3" stroke="#8a8a8a" stroke-width="2.3"/>
<line x1="1138.4" y1="145.0" x2="1160.9" y2="145.0" stroke="#343434" stroke-width="2.3"/>
<line x1="1160.9" y1="145.0" x2="1165.4" y2="145.0" stroke="#8a8a8a" stroke-width="2.3"/>
<line x1="1138.4" y1="162.0" x2="1160.9" y2="162.0" stroke="#343434" stroke-width="2.3"/>
<line x1="1160.9" y1="162.0" x2="1165.4" y2="162.0" stroke="#8a8a8a" stroke-width="2.3"/>
<line x1="1138.4" y1="178.4" x2="1160.9" y2="178.4" stroke="#343434" stroke-width="2.3"/>
<line x1="1160.9" y1="178.4" x2="1165.4" y2="178.4" stroke="#8a8a8a" stroke-width="2.3"/>
<line x1="1138.4" y1="193.3" x2="1160.9" y2="193.3" stroke="#343434" stroke-width="2.3"/>
<line x1="1160.9" y1="193.3" x2="1165.4" y2="193.3" stroke="#8a8a8a" stroke-width="2.3"/>
<line x1="1138.4" y1="209.7" x2="1160.9" y2="209.7" stroke="#343434" stroke-width="2.3"/>
<line x1="1160.9" y1="209.7" x2="1165.4" y2="209.7" stroke="#8a8a8a" stroke-width="2.3"/>
<line x1="1138.4" y1="226.2" x2="1160.9" y2="226.2" stroke="#343434" stroke-width="2.3"/>
<line x1="1160.9" y1="226.2" x2="1165.4" y2="226.2" stroke="#8a8a8a" stroke-width="2.3"/>
<line x1="1138.4" y1="241.0" x2="1160.9" y2="241.0" stroke="#343434" stroke-width="2.3"/>
<line x1="1160.9" y1="241.0" x2="1165.4" y2="241.0" stroke="#8a8a8a" stroke-width="2.3"/>
<line x1="1138.4" y1="257.8" x2="1160.9" y2="257.8" stroke="#343434" stroke-width="2.3"/>
<line x1="1160.9" y1="257.8" x2="1165.4" y2="257.8" stroke="#8a8a8a" stroke-width="2.3"/>
<line x1="1138.4" y1="273.3" x2="1160.9" y2="273.3" stroke="#343434" stroke-width="2.3"/>
<line x1="1160.9" y1="273.3" x2="1165.4" y2="273.3" stroke="#8a8a8a" stroke-width="2.3"/>
<line x1="1184.2" y1="278.8" x2="1184.2" y2="300.8" stroke="#343434" stroke-width="2.0"/>
<line x1="1221.2" y1="278.8" x2="1221.2" y2="300.8" stroke="#343434" stroke-width="2.0"/>
<line x1="1256.3" y1="278.8" x2="1256.3" y2="300.8" stroke="#343434" stroke-width="2.0"/>
<line x1="1291.8" y1="278.8" x2="1291.8" y2="300.8" stroke="#343434" stroke-width="2.0"/>
<line x1="1328.4" y1="278.8" x2="1328.4" y2="300.8" stroke="#343434" stroke-width="2.0"/>
<line x1="1363.8" y1="278.8" x2="1363.8" y2="300.8" stroke="#343434" stroke-width="2.0"/>
<line x1="1399.5" y1="278.8" x2="1399.5" y2="300.8" stroke="#343434" stroke-width="2.0"/>
<line x1="1435.9" y1="278.8" x2="1435.9" y2="300.8" stroke="#343434" stroke-width="2.0"/>
<line x1="1471.4" y1="278.8" x2="1471.4" y2="300.8" stroke="#343434" stroke-width="2.0"/>
<line x1="1507.0" y1="278.8" x2="1507.0" y2="300.8" stroke="#343434" stroke-width="2.0"/>
<line x1="1544.0" y1="278.8" x2="1544.0" y2="300.8" stroke="#343434" stroke-width="2.0"/>
<line x1="1579.0" y1="278.8" x2="1579.0" y2="300.8" stroke="#343434" stroke-width="2.0"/>
<line x1="1615.7" y1="278.8" x2="1615.7" y2="300.8" stroke="#343434" stroke-width="2.0"/>
<line x1="1650.8" y1="278.8" x2="1650.8" y2="300.8" stroke="#343434" stroke-width="2.0"/>
<line x1="1686.0" y1="278.8" x2="1686.0" y2="300.8" stroke="#343434" stroke-width="2.0"/>
<line x1="1723.5" y1="278.8" x2="1723.5" y2="300.8" stroke="#343434" stroke-width="2.0"/>
<line x1="1758.3" y1="278.8" x2="1758.3" y2="300.8" stroke="#343434" stroke-width="2.0"/>
<line x1="1792.9" y1="278.8" x2="1792.9" y2="300.8" stroke="#343434" stroke-width="2.0"/>
<line x1="1830.8" y1="278.8" x2="1830.8" y2="300.8" stroke="#343434" stroke-width="2.0"/>
<line x1="1865.4" y1="278.8" x2="1865.4" y2="300.8" stroke="#343434" stroke-width="2.0"/>
<line x1="1901.2" y1="278.8" x2="1901.2" y2="300.8" stroke="#343434" stroke-width="2.0"/>
<line x1="1938.0" y1="278.8" x2="1938.0" y2="300.8" stroke="#343434" stroke-width="2.0"/>
<line x1="1973.4" y1="278.8" x2="1973.4" y2="300.8" stroke="#343434" stroke-width="2.0"/>
</g>
<g filter="url(#blurA)">
<line x1="1149.4" y1="118" x2="1149.4" y2="300.8" stroke="#343434" stroke-width="2.6"/>
<line x1="1140" y1="290.3" x2="1973.4" y2="290.3" stroke="#343434" stroke-width="2.6"/>
</g>
<text class="nrt" x="1810.5" y="102.2" filter="url(#blur2)" word-spacing="0">NRT4</text>
<text class="bt" x="1184.3" y="325.8" text-anchor="middle">22</text>
<text class="bt" x="1220.2" y="323.0" text-anchor="middle">21</text>
<text class="bt" x="1256.0" y="323.0" text-anchor="middle">20</text>
<text class="bt" x="1291.9" y="323.0" text-anchor="middle">19</text>
<text class="bt" x="1327.8" y="323.0" text-anchor="middle">18</text>
<text class="bt" x="1363.6" y="323.0" text-anchor="middle">17</text>
<text class="bt" x="1399.5" y="323.0" text-anchor="middle">16</text>
<text class="bt" x="1435.4" y="323.0" text-anchor="middle">15</text>
<text class="bt" x="1471.3" y="323.0" text-anchor="middle">14</text>
<text class="bt" x="1507.1" y="323.0" text-anchor="middle">13</text>
<text class="bt" x="1543.0" y="323.0" text-anchor="middle">12</text>
<text class="bt" x="1578.9" y="323.0" text-anchor="middle">11</text>
<text class="bt" x="1614.7" y="323.0" text-anchor="middle">10</text>
<text class="bt" x="1650.6" y="323.0" text-anchor="middle">9</text>
<text class="bt" x="1686.5" y="323.0" text-anchor="middle">8</text>
<text class="bt" x="1722.3" y="323.0" text-anchor="middle">7</text>
<text class="bt" x="1758.2" y="323.0" text-anchor="middle">6</text>
<text class="bt" x="1794.1" y="323.0" text-anchor="middle">5</text>
<text class="bt" x="1830.0" y="323.0" text-anchor="middle">4</text>
<text class="bt" x="1865.8" y="323.0" text-anchor="middle">3</text>
<text class="bt" x="1901.7" y="323.0" text-anchor="middle">2</text>
<text class="bt" x="1937.6" y="323.0" text-anchor="middle">1</text>
<text class="bt" x="1137.0" y="170.0" text-anchor="end">220</text>
<text class="bt" x="1137.0" y="201.3" text-anchor="end">190</text>
<text class="bt" x="1137.0" y="234.2" text-anchor="end">160</text>
<text class="bt" x="1137.0" y="265.8" text-anchor="end">130</text>
<text class="bt" x="1137.0" y="298.3" text-anchor="end">100</text>
<text class="bl" transform="translate(1080.8,213.9) rotate(-90)" text-anchor="middle">Visual T-NRT (CL)</text>
<text class="bl" x="1559.7" y="364.0" text-anchor="middle">Probe active electrode</text>
<g filter="url(#blurB)">
<line x1="1171.6" y1="526.1" x2="1988.7" y2="526.1" stroke="#6e6e6e" stroke-width="2.3" stroke-dasharray="5.29 5.96"/>
<line x1="1171.6" y1="541.9" x2="1988.7" y2="541.9" stroke="#6e6e6e" stroke-width="2.3" stroke-dasharray="5.29 5.96"/>
<line x1="1171.6" y1="558.6" x2="1988.7" y2="558.6" stroke="#6e6e6e" stroke-width="2.3" stroke-dasharray="5.29 5.96"/>
<line x1="1171.6" y1="574.4" x2="1988.7" y2="574.4" stroke="#6e6e6e" stroke-width="2.3" stroke-dasharray="5.29 5.96"/>
<line x1="1171.6" y1="590.1" x2="1988.7" y2="590.1" stroke="#6e6e6e" stroke-width="2.3" stroke-dasharray="5.29 5.96"/>
<line x1="1171.6" y1="606.9" x2="1988.7" y2="606.9" stroke="#6e6e6e" stroke-width="2.3" stroke-dasharray="5.29 5.96"/>
<line x1="1171.6" y1="623.1" x2="1988.7" y2="623.1" stroke="#6e6e6e" stroke-width="2.3" stroke-dasharray="5.29 5.96"/>
<line x1="1171.6" y1="639.4" x2="1988.7" y2="639.4" stroke="#6e6e6e" stroke-width="2.3" stroke-dasharray="5.29 5.96"/>
<line x1="1171.6" y1="655.6" x2="1988.7" y2="655.6" stroke="#6e6e6e" stroke-width="2.3" stroke-dasharray="5.29 5.96"/>
<line x1="1171.6" y1="671.9" x2="1988.7" y2="671.9" stroke="#6e6e6e" stroke-width="2.3" stroke-dasharray="5.29 5.96"/>
<line x1="1186.7" y1="514.5" x2="1186.7" y2="676.6" stroke="#858585" stroke-width="2.6" stroke-dasharray="4.50 6.75"/>
<line x1="1223" y1="514.5" x2="1223" y2="676.6" stroke="#858585" stroke-width="2.6" stroke-dasharray="4.50 6.75"/>
<line x1="1259.4" y1="514.5" x2="1259.4" y2="676.6" stroke="#858585" stroke-width="2.6" stroke-dasharray="4.50 6.75"/>
<line x1="1294.7" y1="514.5" x2="1294.7" y2="676.6" stroke="#858585" stroke-width="2.6" stroke-dasharray="4.50 6.75"/>
<line x1="1332.5" y1="514.5" x2="1332.5" y2="676.6" stroke="#858585" stroke-width="2.6" stroke-dasharray="4.50 6.75"/>
<line x1="1368.8" y1="514.5" x2="1368.8" y2="676.6" stroke="#858585" stroke-width="2.6" stroke-dasharray="4.50 6.75"/>
<line x1="1404.2" y1="514.5" x2="1404.2" y2="676.6" stroke="#858585" stroke-width="2.6" stroke-dasharray="4.50 6.75"/>
<line x1="1442.4" y1="514.5" x2="1442.4" y2="676.6" stroke="#858585" stroke-width="2.6" stroke-dasharray="4.50 6.75"/>
<line x1="1477.3" y1="514.5" x2="1477.3" y2="676.6" stroke="#858585" stroke-width="2.6" stroke-dasharray="4.50 6.75"/>
<line x1="1513.6" y1="514.5" x2="1513.6" y2="676.6" stroke="#858585" stroke-width="2.6" stroke-dasharray="4.50 6.75"/>
<line x1="1551.4" y1="514.5" x2="1551.4" y2="676.6" stroke="#858585" stroke-width="2.6" stroke-dasharray="4.50 6.75"/>
<line x1="1587.2" y1="514.5" x2="1587.2" y2="676.6" stroke="#858585" stroke-width="2.6" stroke-dasharray="4.50 6.75"/>
<line x1="1624" y1="514.5" x2="1624" y2="676.6" stroke="#858585" stroke-width="2.6" stroke-dasharray="4.50 6.75"/>
<line x1="1660.3" y1="514.5" x2="1660.3" y2="676.6" stroke="#858585" stroke-width="2.6" stroke-dasharray="4.50 6.75"/>
<line x1="1696.7" y1="514.5" x2="1696.7" y2="676.6" stroke="#858585" stroke-width="2.6" stroke-dasharray="4.50 6.75"/>
<line x1="1733.5" y1="514.5" x2="1733.5" y2="676.6" stroke="#858585" stroke-width="2.6" stroke-dasharray="4.50 6.75"/>
<line x1="1769.8" y1="514.5" x2="1769.8" y2="676.6" stroke="#858585" stroke-width="2.6" stroke-dasharray="4.50 6.75"/>
<line x1="1805.6" y1="514.5" x2="1805.6" y2="676.6" stroke="#858585" stroke-width="2.6" stroke-dasharray="4.50 6.75"/>
<line x1="1843.4" y1="514.5" x2="1843.4" y2="676.6" stroke="#858585" stroke-width="2.6" stroke-dasharray="4.50 6.75"/>
<line x1="1878.8" y1="514.5" x2="1878.8" y2="676.6" stroke="#858585" stroke-width="2.6" stroke-dasharray="4.50 6.75"/>
<line x1="1915.6" y1="514.5" x2="1915.6" y2="676.6" stroke="#858585" stroke-width="2.6" stroke-dasharray="4.50 6.75"/>
<line x1="1951.9" y1="514.5" x2="1951.9" y2="676.6" stroke="#858585" stroke-width="2.6" stroke-dasharray="4.50 6.75"/>
<line x1="1988.7" y1="514.5" x2="1988.7" y2="676.6" stroke="#858585" stroke-width="2.6" stroke-dasharray="4.50 6.75"/>
<circle cx="1368.8" cy="573.4" r="7.9" fill="#5b8fe8"/>
<circle cx="1404.2" cy="561.9" r="7.9" fill="#5b8fe8"/>
<circle cx="1442.4" cy="576.8" r="7.9" fill="#5b8fe8"/>
<circle cx="1477.3" cy="576.8" r="7.9" fill="#5b8fe8"/>
<circle cx="1513.6" cy="576.8" r="7.9" fill="#5b8fe8"/>
<circle cx="1551.4" cy="576.8" r="7.9" fill="#5b8fe8"/>
<circle cx="1587.2" cy="576.8" r="7.9" fill="#5b8fe8"/>
<circle cx="1624" cy="625.5" r="7.9" fill="#5b8fe8"/>
<circle cx="1660.3" cy="576.8" r="7.9" fill="#5b8fe8"/>
<circle cx="1696.7" cy="569.1" r="7.9" fill="#5b8fe8"/>
<circle cx="1733.5" cy="572.9" r="7.9" fill="#5b8fe8"/>
<circle cx="1769.8" cy="569.1" r="7.9" fill="#5b8fe8"/>
<circle cx="1805.6" cy="569.1" r="7.9" fill="#5b8fe8"/>
<line x1="1139.9" y1="526.1" x2="1162.4" y2="526.1" stroke="#333333" stroke-width="2.5"/>
<line x1="1162.4" y1="526.1" x2="1166.9" y2="526.1" stroke="#8a8a8a" stroke-width="2.5"/>
<line x1="1139.9" y1="541.9" x2="1162.4" y2="541.9" stroke="#333333" stroke-width="2.5"/>
<line x1="1162.4" y1="541.9" x2="1166.9" y2="541.9" stroke="#8a8a8a" stroke-width="2.5"/>
<line x1="1139.9" y1="558.6" x2="1162.4" y2="558.6" stroke="#333333" stroke-width="2.5"/>
<line x1="1162.4" y1="558.6" x2="1166.9" y2="558.6" stroke="#8a8a8a" stroke-width="2.5"/>
<line x1="1139.9" y1="574.4" x2="1162.4" y2="574.4" stroke="#333333" stroke-width="2.5"/>
<line x1="1162.4" y1="574.4" x2="1166.9" y2="574.4" stroke="#8a8a8a" stroke-width="2.5"/>
<line x1="1139.9" y1="590.1" x2="1162.4" y2="590.1" stroke="#333333" stroke-width="2.5"/>
<line x1="1162.4" y1="590.1" x2="1166.9" y2="590.1" stroke="#8a8a8a" stroke-width="2.5"/>
<line x1="1139.9" y1="606.9" x2="1162.4" y2="606.9" stroke="#333333" stroke-width="2.5"/>
<line x1="1162.4" y1="606.9" x2="1166.9" y2="606.9" stroke="#8a8a8a" stroke-width="2.5"/>
<line x1="1139.9" y1="623.1" x2="1162.4" y2="623.1" stroke="#333333" stroke-width="2.5"/>
<line x1="1162.4" y1="623.1" x2="1166.9" y2="623.1" stroke="#8a8a8a" stroke-width="2.5"/>
<line x1="1139.9" y1="639.4" x2="1162.4" y2="639.4" stroke="#333333" stroke-width="2.5"/>
<line x1="1162.4" y1="639.4" x2="1166.9" y2="639.4" stroke="#8a8a8a" stroke-width="2.5"/>
<line x1="1139.9" y1="655.6" x2="1162.4" y2="655.6" stroke="#333333" stroke-width="2.5"/>
<line x1="1162.4" y1="655.6" x2="1166.9" y2="655.6" stroke="#8a8a8a" stroke-width="2.5"/>
<line x1="1139.9" y1="671.9" x2="1162.4" y2="671.9" stroke="#333333" stroke-width="2.5"/>
<line x1="1162.4" y1="671.9" x2="1166.9" y2="671.9" stroke="#8a8a8a" stroke-width="2.5"/>
<line x1="1186.7" y1="677.1" x2="1186.7" y2="699.1" stroke="#333333" stroke-width="2.2"/>
<line x1="1223" y1="677.1" x2="1223" y2="699.1" stroke="#333333" stroke-width="2.2"/>
<line x1="1259.4" y1="677.1" x2="1259.4" y2="699.1" stroke="#333333" stroke-width="2.2"/>
<line x1="1294.7" y1="677.1" x2="1294.7" y2="699.1" stroke="#333333" stroke-width="2.2"/>
<line x1="1332.5" y1="677.1" x2="1332.5" y2="699.1" stroke="#333333" stroke-width="2.2"/>
<line x1="1368.8" y1="677.1" x2="1368.8" y2="699.1" stroke="#333333" stroke-width="2.2"/>
<line x1="1404.2" y1="677.1" x2="1404.2" y2="699.1" stroke="#333333" stroke-width="2.2"/>
<line x1="1442.4" y1="677.1" x2="1442.4" y2="699.1" stroke="#333333" stroke-width="2.2"/>
<line x1="1477.3" y1="677.1" x2="1477.3" y2="699.1" stroke="#333333" stroke-width="2.2"/>
<line x1="1513.6" y1="677.1" x2="1513.6" y2="699.1" stroke="#333333" stroke-width="2.2"/>
<line x1="1551.4" y1="677.1" x2="1551.4" y2="699.1" stroke="#333333" stroke-width="2.2"/>
<line x1="1587.2" y1="677.1" x2="1587.2" y2="699.1" stroke="#333333" stroke-width="2.2"/>
<line x1="1624" y1="677.1" x2="1624" y2="699.1" stroke="#333333" stroke-width="2.2"/>
<line x1="1660.3" y1="677.1" x2="1660.3" y2="699.1" stroke="#333333" stroke-width="2.2"/>
<line x1="1696.7" y1="677.1" x2="1696.7" y2="699.1" stroke="#333333" stroke-width="2.2"/>
<line x1="1733.5" y1="677.1" x2="1733.5" y2="699.1" stroke="#333333" stroke-width="2.2"/>
<line x1="1769.8" y1="677.1" x2="1769.8" y2="699.1" stroke="#333333" stroke-width="2.2"/>
<line x1="1805.6" y1="677.1" x2="1805.6" y2="699.1" stroke="#333333" stroke-width="2.2"/>
<line x1="1843.4" y1="677.1" x2="1843.4" y2="699.1" stroke="#333333" stroke-width="2.2"/>
<line x1="1878.8" y1="677.1" x2="1878.8" y2="699.1" stroke="#333333" stroke-width="2.2"/>
<line x1="1915.6" y1="677.1" x2="1915.6" y2="699.1" stroke="#333333" stroke-width="2.2"/>
<line x1="1951.9" y1="677.1" x2="1951.9" y2="699.1" stroke="#333333" stroke-width="2.2"/>
<line x1="1988.7" y1="677.1" x2="1988.7" y2="699.1" stroke="#333333" stroke-width="2.2"/>
</g>
<g filter="url(#blurC)">
<line x1="1150.9" y1="513.2" x2="1150.9" y2="699.1" stroke="#262626" stroke-width="2.3"/>
<line x1="1140" y1="688.6" x2="1988.7" y2="688.6" stroke="#262626" stroke-width="2.3"/>
</g>
<text class="nrt" x="1810.5" y="496.5" filter="url(#blur2)" word-spacing="0">NRT3</text>
<text class="bt" x="1184.3" y="725.6" text-anchor="middle">22</text>
<text class="bt" x="1220.2" y="722.7" text-anchor="middle">21</text>
<text class="bt" x="1256.0" y="722.7" text-anchor="middle">20</text>
<text class="bt" x="1291.9" y="722.7" text-anchor="middle">19</text>
<text class="bt" x="1327.8" y="722.7" text-anchor="middle">18</text>
<text class="bt" x="1363.6" y="722.7" text-anchor="middle">17</text>
<text class="bt" x="1399.5" y="722.7" text-anchor="middle">16</text>
<text class="bt" x="1435.4" y="722.7" text-anchor="middle">15</text>
<text class="bt" x="1471.3" y="722.7" text-anchor="middle">14</text>
<text class="bt" x="1507.1" y="722.7" text-anchor="middle">13</text>
<text class="bt" x="1543.0" y="722.7" text-anchor="middle">12</text>
<text class="bt" x="1578.9" y="722.7" text-anchor="middle">11</text>
<text class="bt" x="1614.7" y="722.7" text-anchor="middle">10</text>
<text class="bt" x="1650.6" y="722.7" text-anchor="middle">9</text>
<text class="bt" x="1686.5" y="722.7" text-anchor="middle">8</text>
<text class="bt" x="1722.3" y="722.7" text-anchor="middle">7</text>
<text class="bt" x="1758.2" y="722.7" text-anchor="middle">6</text>
<text class="bt" x="1794.1" y="722.7" text-anchor="middle">5</text>
<text class="bt" x="1830.0" y="722.7" text-anchor="middle">4</text>
<text class="bt" x="1865.8" y="722.7" text-anchor="middle">3</text>
<text class="bt" x="1901.7" y="722.7" text-anchor="middle">2</text>
<text class="bt" x="1937.6" y="722.7" text-anchor="middle">1</text>
<text class="bt" x="1137.0" y="566.6" text-anchor="end">220</text>
<text class="bt" x="1137.0" y="598.1" text-anchor="end">190</text>
<text class="bt" x="1137.0" y="631.1" text-anchor="end">160</text>
<text class="bt" x="1137.0" y="663.6" text-anchor="end">130</text>
<text class="bt" x="1137.0" y="696.6" text-anchor="end">100</text>
<text class="bl" transform="translate(1080.8,611.2) rotate(-90)" text-anchor="middle">Visual T-NRT (CL)</text>
<text class="bl" x="1559.7" y="762.2" text-anchor="middle">Probe active electrode</text>
<g filter="url(#blurB)">
<line x1="1171.6" y1="997.1" x2="1988.7" y2="997.1" stroke="#6e6e6e" stroke-width="2.3" stroke-dasharray="5.29 5.96"/>
<line x1="1171.6" y1="1012.9" x2="1988.7" y2="1012.9" stroke="#6e6e6e" stroke-width="2.3" stroke-dasharray="5.29 5.96"/>
<line x1="1171.6" y1="1030.5" x2="1988.7" y2="1030.5" stroke="#6e6e6e" stroke-width="2.3" stroke-dasharray="5.29 5.96"/>
<line x1="1171.6" y1="1046.3" x2="1988.7" y2="1046.3" stroke="#6e6e6e" stroke-width="2.3" stroke-dasharray="5.29 5.96"/>
<line x1="1171.6" y1="1061.6" x2="1988.7" y2="1061.6" stroke="#6e6e6e" stroke-width="2.3" stroke-dasharray="5.29 5.96"/>
<line x1="1171.6" y1="1077.9" x2="1988.7" y2="1077.9" stroke="#6e6e6e" stroke-width="2.3" stroke-dasharray="5.29 5.96"/>
<line x1="1171.6" y1="1095.1" x2="1988.7" y2="1095.1" stroke="#6e6e6e" stroke-width="2.3" stroke-dasharray="5.29 5.96"/>
<line x1="1171.6" y1="1110.4" x2="1988.7" y2="1110.4" stroke="#6e6e6e" stroke-width="2.3" stroke-dasharray="5.29 5.96"/>
<line x1="1171.6" y1="1127.6" x2="1988.7" y2="1127.6" stroke="#6e6e6e" stroke-width="2.3" stroke-dasharray="5.29 5.96"/>
<line x1="1171.6" y1="1142.9" x2="1988.7" y2="1142.9" stroke="#6e6e6e" stroke-width="2.3" stroke-dasharray="5.29 5.96"/>
<line x1="1186.7" y1="986.4" x2="1186.7" y2="1147.6" stroke="#858585" stroke-width="2.6" stroke-dasharray="4.50 6.75"/>
<line x1="1223" y1="986.4" x2="1223" y2="1147.6" stroke="#858585" stroke-width="2.6" stroke-dasharray="4.50 6.75"/>
<line x1="1259.4" y1="986.4" x2="1259.4" y2="1147.6" stroke="#858585" stroke-width="2.6" stroke-dasharray="4.50 6.75"/>
<line x1="1294.7" y1="986.4" x2="1294.7" y2="1147.6" stroke="#858585" stroke-width="2.6" stroke-dasharray="4.50 6.75"/>
<line x1="1332.5" y1="986.4" x2="1332.5" y2="1147.6" stroke="#858585" stroke-width="2.6" stroke-dasharray="4.50 6.75"/>
<line x1="1368.8" y1="986.4" x2="1368.8" y2="1147.6" stroke="#858585" stroke-width="2.6" stroke-dasharray="4.50 6.75"/>
<line x1="1404.2" y1="986.4" x2="1404.2" y2="1147.6" stroke="#858585" stroke-width="2.6" stroke-dasharray="4.50 6.75"/>
<line x1="1442.4" y1="986.4" x2="1442.4" y2="1147.6" stroke="#858585" stroke-width="2.6" stroke-dasharray="4.50 6.75"/>
<line x1="1477.3" y1="986.4" x2="1477.3" y2="1147.6" stroke="#858585" stroke-width="2.6" stroke-dasharray="4.50 6.75"/>
<line x1="1513.6" y1="986.4" x2="1513.6" y2="1147.6" stroke="#858585" stroke-width="2.6" stroke-dasharray="4.50 6.75"/>
<line x1="1551.4" y1="986.4" x2="1551.4" y2="1147.6" stroke="#858585" stroke-width="2.6" stroke-dasharray="4.50 6.75"/>
<line x1="1587.2" y1="986.4" x2="1587.2" y2="1147.6" stroke="#858585" stroke-width="2.6" stroke-dasharray="4.50 6.75"/>
<line x1="1624" y1="986.4" x2="1624" y2="1147.6" stroke="#858585" stroke-width="2.6" stroke-dasharray="4.50 6.75"/>
<line x1="1660.3" y1="986.4" x2="1660.3" y2="1147.6" stroke="#858585" stroke-width="2.6" stroke-dasharray="4.50 6.75"/>
<line x1="1696.7" y1="986.4" x2="1696.7" y2="1147.6" stroke="#858585" stroke-width="2.6" stroke-dasharray="4.50 6.75"/>
<line x1="1733.5" y1="986.4" x2="1733.5" y2="1147.6" stroke="#858585" stroke-width="2.6" stroke-dasharray="4.50 6.75"/>
<line x1="1769.8" y1="986.4" x2="1769.8" y2="1147.6" stroke="#858585" stroke-width="2.6" stroke-dasharray="4.50 6.75"/>
<line x1="1805.6" y1="986.4" x2="1805.6" y2="1147.6" stroke="#858585" stroke-width="2.6" stroke-dasharray="4.50 6.75"/>
<line x1="1843.4" y1="986.4" x2="1843.4" y2="1147.6" stroke="#858585" stroke-width="2.6" stroke-dasharray="4.50 6.75"/>
<line x1="1878.8" y1="986.4" x2="1878.8" y2="1147.6" stroke="#858585" stroke-width="2.6" stroke-dasharray="4.50 6.75"/>
<line x1="1915.6" y1="986.4" x2="1915.6" y2="1147.6" stroke="#858585" stroke-width="2.6" stroke-dasharray="4.50 6.75"/>
<line x1="1951.9" y1="986.4" x2="1951.9" y2="1147.6" stroke="#858585" stroke-width="2.6" stroke-dasharray="4.50 6.75"/>
<line x1="1988.7" y1="986.4" x2="1988.7" y2="1147.6" stroke="#858585" stroke-width="2.6" stroke-dasharray="4.50 6.75"/>
<circle cx="1332.5" cy="1034.4" r="7.9" fill="#5b8fe8"/>
<circle cx="1368.8" cy="1040.1" r="7.9" fill="#5b8fe8"/>
<circle cx="1442.4" cy="1027.2" r="7.9" fill="#5b8fe8"/>
<circle cx="1513.6" cy="1034.4" r="7.9" fill="#5b8fe8"/>
<circle cx="1551.4" cy="1034.4" r="7.9" fill="#5b8fe8"/>
<circle cx="1587.2" cy="1047.8" r="7.9" fill="#5b8fe8"/>
<circle cx="1624" cy="1062.6" r="7.9" fill="#5b8fe8"/>
<circle cx="1660.3" cy="1038.2" r="7.9" fill="#5b8fe8"/>
<line x1="1139.9" y1="997.1" x2="1162.4" y2="997.1" stroke="#333333" stroke-width="2.5"/>
<line x1="1162.4" y1="997.1" x2="1166.9" y2="997.1" stroke="#8a8a8a" stroke-width="2.5"/>
<line x1="1139.9" y1="1012.9" x2="1162.4" y2="1012.9" stroke="#333333" stroke-width="2.5"/>
<line x1="1162.4" y1="1012.9" x2="1166.9" y2="1012.9" stroke="#8a8a8a" stroke-width="2.5"/>
<line x1="1139.9" y1="1030.5" x2="1162.4" y2="1030.5" stroke="#333333" stroke-width="2.5"/>
<line x1="1162.4" y1="1030.5" x2="1166.9" y2="1030.5" stroke="#8a8a8a" stroke-width="2.5"/>
<line x1="1139.9" y1="1046.3" x2="1162.4" y2="1046.3" stroke="#333333" stroke-width="2.5"/>
<line x1="1162.4" y1="1046.3" x2="1166.9" y2="1046.3" stroke="#8a8a8a" stroke-width="2.5"/>
<line x1="1139.9" y1="1061.6" x2="1162.4" y2="1061.6" stroke="#333333" stroke-width="2.5"/>
<line x1="1162.4" y1="1061.6" x2="1166.9" y2="1061.6" stroke="#8a8a8a" stroke-width="2.5"/>
<line x1="1139.9" y1="1077.9" x2="1162.4" y2="1077.9" stroke="#333333" stroke-width="2.5"/>
<line x1="1162.4" y1="1077.9" x2="1166.9" y2="1077.9" stroke="#8a8a8a" stroke-width="2.5"/>
<line x1="1139.9" y1="1095.1" x2="1162.4" y2="1095.1" stroke="#333333" stroke-width="2.5"/>
<line x1="1162.4" y1="1095.1" x2="1166.9" y2="1095.1" stroke="#8a8a8a" stroke-width="2.5"/>
<line x1="1139.9" y1="1110.4" x2="1162.4" y2="1110.4" stroke="#333333" stroke-width="2.5"/>
<line x1="1162.4" y1="1110.4" x2="1166.9" y2="1110.4" stroke="#8a8a8a" stroke-width="2.5"/>
<line x1="1139.9" y1="1127.6" x2="1162.4" y2="1127.6" stroke="#333333" stroke-width="2.5"/>
<line x1="1162.4" y1="1127.6" x2="1166.9" y2="1127.6" stroke="#8a8a8a" stroke-width="2.5"/>
<line x1="1139.9" y1="1142.9" x2="1162.4" y2="1142.9" stroke="#333333" stroke-width="2.5"/>
<line x1="1162.4" y1="1142.9" x2="1166.9" y2="1142.9" stroke="#8a8a8a" stroke-width="2.5"/>
<line x1="1186.7" y1="1148.1" x2="1186.7" y2="1170.1" stroke="#333333" stroke-width="2.2"/>
<line x1="1223" y1="1148.1" x2="1223" y2="1170.1" stroke="#333333" stroke-width="2.2"/>
<line x1="1259.4" y1="1148.1" x2="1259.4" y2="1170.1" stroke="#333333" stroke-width="2.2"/>
<line x1="1294.7" y1="1148.1" x2="1294.7" y2="1170.1" stroke="#333333" stroke-width="2.2"/>
<line x1="1332.5" y1="1148.1" x2="1332.5" y2="1170.1" stroke="#333333" stroke-width="2.2"/>
<line x1="1368.8" y1="1148.1" x2="1368.8" y2="1170.1" stroke="#333333" stroke-width="2.2"/>
<line x1="1404.2" y1="1148.1" x2="1404.2" y2="1170.1" stroke="#333333" stroke-width="2.2"/>
<line x1="1442.4" y1="1148.1" x2="1442.4" y2="1170.1" stroke="#333333" stroke-width="2.2"/>
<line x1="1477.3" y1="1148.1" x2="1477.3" y2="1170.1" stroke="#333333" stroke-width="2.2"/>
<line x1="1513.6" y1="1148.1" x2="1513.6" y2="1170.1" stroke="#333333" stroke-width="2.2"/>
<line x1="1551.4" y1="1148.1" x2="1551.4" y2="1170.1" stroke="#333333" stroke-width="2.2"/>
<line x1="1587.2" y1="1148.1" x2="1587.2" y2="1170.1" stroke="#333333" stroke-width="2.2"/>
<line x1="1624" y1="1148.1" x2="1624" y2="1170.1" stroke="#333333" stroke-width="2.2"/>
<line x1="1660.3" y1="1148.1" x2="1660.3" y2="1170.1" stroke="#333333" stroke-width="2.2"/>
<line x1="1696.7" y1="1148.1" x2="1696.7" y2="1170.1" stroke="#333333" stroke-width="2.2"/>
<line x1="1733.5" y1="1148.1" x2="1733.5" y2="1170.1" stroke="#333333" stroke-width="2.2"/>
<line x1="1769.8" y1="1148.1" x2="1769.8" y2="1170.1" stroke="#333333" stroke-width="2.2"/>
<line x1="1805.6" y1="1148.1" x2="1805.6" y2="1170.1" stroke="#333333" stroke-width="2.2"/>
<line x1="1843.4" y1="1148.1" x2="1843.4" y2="1170.1" stroke="#333333" stroke-width="2.2"/>
<line x1="1878.8" y1="1148.1" x2="1878.8" y2="1170.1" stroke="#333333" stroke-width="2.2"/>
<line x1="1915.6" y1="1148.1" x2="1915.6" y2="1170.1" stroke="#333333" stroke-width="2.2"/>
<line x1="1951.9" y1="1148.1" x2="1951.9" y2="1170.1" stroke="#333333" stroke-width="2.2"/>
<line x1="1988.7" y1="1148.1" x2="1988.7" y2="1170.1" stroke="#333333" stroke-width="2.2"/>
</g>
<g filter="url(#blurC)">
<line x1="1150.9" y1="985.1" x2="1150.9" y2="1170.1" stroke="#262626" stroke-width="2.3"/>
<line x1="1140" y1="1159.6" x2="1988.7" y2="1159.6" stroke="#262626" stroke-width="2.3"/>
</g>
<text class="nrt" x="1790.5" y="963.6" filter="url(#blur2)" word-spacing="0">NRT2</text>
<text class="bt" x="1184.8" y="1195.1" text-anchor="middle">22</text>
<text class="bt" x="1221.3" y="1192.3" text-anchor="middle">21</text>
<text class="bt" x="1257.8" y="1192.3" text-anchor="middle">20</text>
<text class="bt" x="1294.4" y="1192.3" text-anchor="middle">19</text>
<text class="bt" x="1330.9" y="1192.3" text-anchor="middle">18</text>
<text class="bt" x="1367.4" y="1192.3" text-anchor="middle">17</text>
<text class="bt" x="1403.9" y="1192.3" text-anchor="middle">16</text>
<text class="bt" x="1440.4" y="1192.3" text-anchor="middle">15</text>
<text class="bt" x="1477.0" y="1192.3" text-anchor="middle">14</text>
<text class="bt" x="1513.5" y="1192.3" text-anchor="middle">13</text>
<text class="bt" x="1550.0" y="1192.3" text-anchor="middle">12</text>
<text class="bt" x="1586.5" y="1192.3" text-anchor="middle">11</text>
<text class="bt" x="1623.0" y="1192.3" text-anchor="middle">10</text>
<text class="bt" x="1659.6" y="1192.3" text-anchor="middle">9</text>
<text class="bt" x="1696.1" y="1192.3" text-anchor="middle">8</text>
<text class="bt" x="1732.6" y="1192.3" text-anchor="middle">7</text>
<text class="bt" x="1769.1" y="1192.3" text-anchor="middle">6</text>
<text class="bt" x="1805.6" y="1192.3" text-anchor="middle">5</text>
<text class="bt" x="1842.2" y="1192.3" text-anchor="middle">4</text>
<text class="bt" x="1878.7" y="1192.3" text-anchor="middle">3</text>
<text class="bt" x="1915.2" y="1192.3" text-anchor="middle">2</text>
<text class="bt" x="1951.7" y="1192.3" text-anchor="middle">1</text>
<text class="bt" x="1137.0" y="1038.5" text-anchor="end">220</text>
<text class="bt" x="1137.0" y="1069.6" text-anchor="end">190</text>
<text class="bt" x="1137.0" y="1103.1" text-anchor="end">160</text>
<text class="bt" x="1137.0" y="1135.6" text-anchor="end">130</text>
<text class="bt" x="1137.0" y="1167.6" text-anchor="end">100</text>
<text class="bl" transform="translate(1080.8,1081.7) rotate(-90)" text-anchor="middle">Visual T-NRT (CL)</text>
<text class="bl" x="1559.7" y="1232.7" text-anchor="middle">Probe active electrode</text>
<g filter="url(#blurB)">
<line x1="1158.1" y1="1439.5" x2="1988.7" y2="1439.5" stroke="#6e6e6e" stroke-width="2.3" stroke-dasharray="5.38 6.07"/>
<line x1="1158.1" y1="1456.2" x2="1988.7" y2="1456.2" stroke="#6e6e6e" stroke-width="2.3" stroke-dasharray="5.38 6.07"/>
<line x1="1158.1" y1="1473.9" x2="1988.7" y2="1473.9" stroke="#6e6e6e" stroke-width="2.3" stroke-dasharray="5.38 6.07"/>
<line x1="1158.1" y1="1489.7" x2="1988.7" y2="1489.7" stroke="#6e6e6e" stroke-width="2.3" stroke-dasharray="5.38 6.07"/>
<line x1="1158.1" y1="1505.4" x2="1988.7" y2="1505.4" stroke="#6e6e6e" stroke-width="2.3" stroke-dasharray="5.38 6.07"/>
<line x1="1158.1" y1="1522.2" x2="1988.7" y2="1522.2" stroke="#6e6e6e" stroke-width="2.3" stroke-dasharray="5.38 6.07"/>
<line x1="1158.1" y1="1538.9" x2="1988.7" y2="1538.9" stroke="#6e6e6e" stroke-width="2.3" stroke-dasharray="5.38 6.07"/>
<line x1="1158.1" y1="1555.6" x2="1988.7" y2="1555.6" stroke="#6e6e6e" stroke-width="2.3" stroke-dasharray="5.38 6.07"/>
<line x1="1158.1" y1="1571.9" x2="1988.7" y2="1571.9" stroke="#6e6e6e" stroke-width="2.3" stroke-dasharray="5.38 6.07"/>
<line x1="1158.1" y1="1587.6" x2="1988.7" y2="1587.6" stroke="#6e6e6e" stroke-width="2.3" stroke-dasharray="5.38 6.07"/>
<line x1="1172.9" y1="1428.8" x2="1172.9" y2="1593.3" stroke="#858585" stroke-width="2.6" stroke-dasharray="4.58 6.87"/>
<line x1="1210.6" y1="1428.8" x2="1210.6" y2="1593.3" stroke="#858585" stroke-width="2.6" stroke-dasharray="4.58 6.87"/>
<line x1="1246.9" y1="1428.8" x2="1246.9" y2="1593.3" stroke="#858585" stroke-width="2.6" stroke-dasharray="4.58 6.87"/>
<line x1="1283.7" y1="1428.8" x2="1283.7" y2="1593.3" stroke="#858585" stroke-width="2.6" stroke-dasharray="4.58 6.87"/>
<line x1="1321" y1="1428.8" x2="1321" y2="1593.3" stroke="#858585" stroke-width="2.6" stroke-dasharray="4.58 6.87"/>
<line x1="1358.3" y1="1428.8" x2="1358.3" y2="1593.3" stroke="#858585" stroke-width="2.6" stroke-dasharray="4.58 6.87"/>
<line x1="1394.6" y1="1428.8" x2="1394.6" y2="1593.3" stroke="#858585" stroke-width="2.6" stroke-dasharray="4.58 6.87"/>
<line x1="1432.8" y1="1428.8" x2="1432.8" y2="1593.3" stroke="#858585" stroke-width="2.6" stroke-dasharray="4.58 6.87"/>
<line x1="1469.2" y1="1428.8" x2="1469.2" y2="1593.3" stroke="#858585" stroke-width="2.6" stroke-dasharray="4.58 6.87"/>
<line x1="1506" y1="1428.8" x2="1506" y2="1593.3" stroke="#858585" stroke-width="2.6" stroke-dasharray="4.58 6.87"/>
<line x1="1543.2" y1="1428.8" x2="1543.2" y2="1593.3" stroke="#858585" stroke-width="2.6" stroke-dasharray="4.58 6.87"/>
<line x1="1580" y1="1428.8" x2="1580" y2="1593.3" stroke="#858585" stroke-width="2.6" stroke-dasharray="4.58 6.87"/>
<line x1="1618.3" y1="1428.8" x2="1618.3" y2="1593.3" stroke="#858585" stroke-width="2.6" stroke-dasharray="4.58 6.87"/>
<line x1="1654.1" y1="1428.8" x2="1654.1" y2="1593.3" stroke="#858585" stroke-width="2.6" stroke-dasharray="4.58 6.87"/>
<line x1="1690" y1="1428.8" x2="1690" y2="1593.3" stroke="#858585" stroke-width="2.6" stroke-dasharray="4.58 6.87"/>
<line x1="1728.2" y1="1428.8" x2="1728.2" y2="1593.3" stroke="#858585" stroke-width="2.6" stroke-dasharray="4.58 6.87"/>
<line x1="1765.5" y1="1428.8" x2="1765.5" y2="1593.3" stroke="#858585" stroke-width="2.6" stroke-dasharray="4.58 6.87"/>
<line x1="1802.3" y1="1428.8" x2="1802.3" y2="1593.3" stroke="#858585" stroke-width="2.6" stroke-dasharray="4.58 6.87"/>
<line x1="1840.5" y1="1428.8" x2="1840.5" y2="1593.3" stroke="#858585" stroke-width="2.6" stroke-dasharray="4.58 6.87"/>
<line x1="1876.4" y1="1428.8" x2="1876.4" y2="1593.3" stroke="#858585" stroke-width="2.6" stroke-dasharray="4.58 6.87"/>
<line x1="1913.6" y1="1428.8" x2="1913.6" y2="1593.3" stroke="#858585" stroke-width="2.6" stroke-dasharray="4.58 6.87"/>
<line x1="1951.9" y1="1428.8" x2="1951.9" y2="1593.3" stroke="#858585" stroke-width="2.6" stroke-dasharray="4.58 6.87"/>
<line x1="1988.7" y1="1428.8" x2="1988.7" y2="1593.3" stroke="#858585" stroke-width="2.6" stroke-dasharray="4.58 6.87"/>
<circle cx="1580" cy="1474.8" r="7.9" fill="#5b8fe8"/>
<line x1="1126.0" y1="1439.5" x2="1148.5" y2="1439.5" stroke="#333333" stroke-width="2.5"/>
<line x1="1148.5" y1="1439.5" x2="1153.0" y2="1439.5" stroke="#8a8a8a" stroke-width="2.5"/>
<line x1="1126.0" y1="1456.2" x2="1148.5" y2="1456.2" stroke="#333333" stroke-width="2.5"/>
<line x1="1148.5" y1="1456.2" x2="1153.0" y2="1456.2" stroke="#8a8a8a" stroke-width="2.5"/>
<line x1="1126.0" y1="1473.9" x2="1148.5" y2="1473.9" stroke="#333333" stroke-width="2.5"/>
<line x1="1148.5" y1="1473.9" x2="1153.0" y2="1473.9" stroke="#8a8a8a" stroke-width="2.5"/>
<line x1="1126.0" y1="1489.7" x2="1148.5" y2="1489.7" stroke="#333333" stroke-width="2.5"/>
<line x1="1148.5" y1="1489.7" x2="1153.0" y2="1489.7" stroke="#8a8a8a" stroke-width="2.5"/>
<line x1="1126.0" y1="1505.4" x2="1148.5" y2="1505.4" stroke="#333333" stroke-width="2.5"/>
<line x1="1148.5" y1="1505.4" x2="1153.0" y2="1505.4" stroke="#8a8a8a" stroke-width="2.5"/>
<line x1="1126.0" y1="1522.2" x2="1148.5" y2="1522.2" stroke="#333333" stroke-width="2.5"/>
<line x1="1148.5" y1="1522.2" x2="1153.0" y2="1522.2" stroke="#8a8a8a" stroke-width="2.5"/>
<line x1="1126.0" y1="1538.9" x2="1148.5" y2="1538.9" stroke="#333333" stroke-width="2.5"/>
<line x1="1148.5" y1="1538.9" x2="1153.0" y2="1538.9" stroke="#8a8a8a" stroke-width="2.5"/>
<line x1="1126.0" y1="1555.6" x2="1148.5" y2="1555.6" stroke="#333333" stroke-width="2.5"/>
<line x1="1148.5" y1="1555.6" x2="1153.0" y2="1555.6" stroke="#8a8a8a" stroke-width="2.5"/>
<line x1="1126.0" y1="1571.9" x2="1148.5" y2="1571.9" stroke="#333333" stroke-width="2.5"/>
<line x1="1148.5" y1="1571.9" x2="1153.0" y2="1571.9" stroke="#8a8a8a" stroke-width="2.5"/>
<line x1="1126.0" y1="1587.6" x2="1148.5" y2="1587.6" stroke="#333333" stroke-width="2.5"/>
<line x1="1148.5" y1="1587.6" x2="1153.0" y2="1587.6" stroke="#8a8a8a" stroke-width="2.5"/>
<line x1="1172.9" y1="1593.8" x2="1172.9" y2="1615.8" stroke="#333333" stroke-width="2.2"/>
<line x1="1210.6" y1="1593.8" x2="1210.6" y2="1615.8" stroke="#333333" stroke-width="2.2"/>
<line x1="1246.9" y1="1593.8" x2="1246.9" y2="1615.8" stroke="#333333" stroke-width="2.2"/>
<line x1="1283.7" y1="1593.8" x2="1283.7" y2="1615.8" stroke="#333333" stroke-width="2.2"/>
<line x1="1321" y1="1593.8" x2="1321" y2="1615.8" stroke="#333333" stroke-width="2.2"/>
<line x1="1358.3" y1="1593.8" x2="1358.3" y2="1615.8" stroke="#333333" stroke-width="2.2"/>
<line x1="1394.6" y1="1593.8" x2="1394.6" y2="1615.8" stroke="#333333" stroke-width="2.2"/>
<line x1="1432.8" y1="1593.8" x2="1432.8" y2="1615.8" stroke="#333333" stroke-width="2.2"/>
<line x1="1469.2" y1="1593.8" x2="1469.2" y2="1615.8" stroke="#333333" stroke-width="2.2"/>
<line x1="1506" y1="1593.8" x2="1506" y2="1615.8" stroke="#333333" stroke-width="2.2"/>
<line x1="1543.2" y1="1593.8" x2="1543.2" y2="1615.8" stroke="#333333" stroke-width="2.2"/>
<line x1="1580" y1="1593.8" x2="1580" y2="1615.8" stroke="#333333" stroke-width="2.2"/>
<line x1="1618.3" y1="1593.8" x2="1618.3" y2="1615.8" stroke="#333333" stroke-width="2.2"/>
<line x1="1654.1" y1="1593.8" x2="1654.1" y2="1615.8" stroke="#333333" stroke-width="2.2"/>
<line x1="1690" y1="1593.8" x2="1690" y2="1615.8" stroke="#333333" stroke-width="2.2"/>
<line x1="1728.2" y1="1593.8" x2="1728.2" y2="1615.8" stroke="#333333" stroke-width="2.2"/>
<line x1="1765.5" y1="1593.8" x2="1765.5" y2="1615.8" stroke="#333333" stroke-width="2.2"/>
<line x1="1802.3" y1="1593.8" x2="1802.3" y2="1615.8" stroke="#333333" stroke-width="2.2"/>
<line x1="1840.5" y1="1593.8" x2="1840.5" y2="1615.8" stroke="#333333" stroke-width="2.2"/>
<line x1="1876.4" y1="1593.8" x2="1876.4" y2="1615.8" stroke="#333333" stroke-width="2.2"/>
<line x1="1913.6" y1="1593.8" x2="1913.6" y2="1615.8" stroke="#333333" stroke-width="2.2"/>
<line x1="1951.9" y1="1593.8" x2="1951.9" y2="1615.8" stroke="#333333" stroke-width="2.2"/>
<line x1="1988.7" y1="1593.8" x2="1988.7" y2="1615.8" stroke="#333333" stroke-width="2.2"/>
</g>
<g filter="url(#blurC)">
<line x1="1137.0" y1="1427.5" x2="1137.0" y2="1615.8" stroke="#262626" stroke-width="2.3"/>
<line x1="1125" y1="1605.3" x2="1988.7" y2="1605.3" stroke="#262626" stroke-width="3.0"/>
<line x1="1125" y1="1606.8" x2="1988.7" y2="1606.8" stroke="#9a9a9a" stroke-width="4.5" stroke-opacity="0.6"/>
</g>
<text class="nrt" x="1775.0" y="1409.4" filter="url(#blur2)" word-spacing="-8">NRT 1</text>
<text class="bt" x="1170.0" y="1640.0" text-anchor="middle">22</text>
<text class="bt" x="1207.0" y="1640.0" text-anchor="middle">21</text>
<text class="bt" x="1244.1" y="1640.0" text-anchor="middle">20</text>
<text class="bt" x="1281.2" y="1640.0" text-anchor="middle">19</text>
<text class="bt" x="1318.2" y="1640.0" text-anchor="middle">18</text>
<text class="bt" x="1355.2" y="1640.0" text-anchor="middle">17</text>
<text class="bt" x="1392.3" y="1640.0" text-anchor="middle">16</text>
<text class="bt" x="1429.3" y="1640.0" text-anchor="middle">15</text>
<text class="bt" x="1466.4" y="1640.0" text-anchor="middle">14</text>
<text class="bt" x="1503.5" y="1640.0" text-anchor="middle">13</text>
<text class="bt" x="1540.5" y="1640.0" text-anchor="middle">12</text>
<text class="bt" x="1577.5" y="1640.0" text-anchor="middle">11</text>
<text class="bt" x="1614.6" y="1640.0" text-anchor="middle">10</text>
<text class="bt" x="1651.7" y="1640.0" text-anchor="middle">9</text>
<text class="bt" x="1688.7" y="1640.0" text-anchor="middle">8</text>
<text class="bt" x="1725.8" y="1640.0" text-anchor="middle">7</text>
<text class="bt" x="1762.8" y="1640.0" text-anchor="middle">6</text>
<text class="bt" x="1799.8" y="1640.0" text-anchor="middle">5</text>
<text class="bt" x="1836.9" y="1640.0" text-anchor="middle">4</text>
<text class="bt" x="1873.9" y="1640.0" text-anchor="middle">3</text>
<text class="bt" x="1911.0" y="1640.0" text-anchor="middle">2</text>
<text class="bt" x="1948.0" y="1640.0" text-anchor="middle">1</text>
<text class="bt" x="1122.8" y="1481.9" text-anchor="end">220</text>
<text class="bt" x="1122.8" y="1513.4" text-anchor="end">190</text>
<text class="bt" x="1122.8" y="1546.9" text-anchor="end">160</text>
<text class="bt" x="1122.8" y="1579.9" text-anchor="end">130</text>
<text class="bt" x="1122.8" y="1610.0" text-anchor="end">100</text>
<text class="bl" transform="translate(1064.8,1524.5) rotate(-90)" text-anchor="middle">Visual T-NRT (CL)</text>
<text class="bl" x="1559.7" y="1684.2" text-anchor="middle">Probe active electrode</text>
</g>
</svg>
</body>
</html>
